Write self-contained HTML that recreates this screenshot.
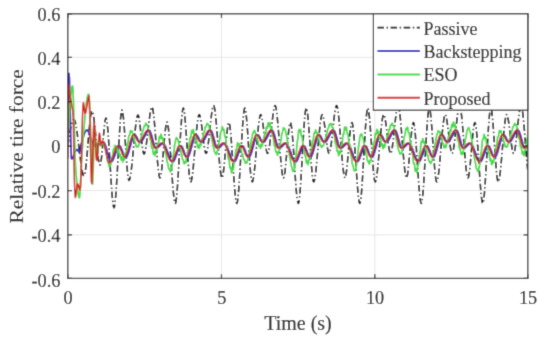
<!DOCTYPE html>
<html><head><meta charset="utf-8"><style>
html,body{margin:0;padding:0;background:#fff;}
svg{display:block;}
text{font-family:"Liberation Serif","Times New Roman",serif;fill:#101010;stroke:#101010;stroke-width:0.15px;}
</style></head><body>
<svg width="550" height="341" viewBox="0 0 550 341">
<defs><filter id="soft" x="0" y="0" width="550" height="341" filterUnits="userSpaceOnUse"><feConvolveMatrix order="3" kernelMatrix="0.0192 0.1001 0.0192 0.1001 0.5228 0.1001 0.0192 0.1001 0.0192" edgeMode="duplicate" preserveAlpha="true"/></filter></defs>
<g filter="url(#soft)">
<rect width="550" height="341" fill="#fff"/>
<defs><clipPath id="ax"><rect x="67.8" y="13.8" width="460.0" height="264.6"/></clipPath></defs>
<g stroke="#e6e6e6" stroke-width="1" fill="none"><line x1="221.48" y1="13.80" x2="221.48" y2="278.40"/><line x1="374.82" y1="13.80" x2="374.82" y2="278.40"/><line x1="67.80" y1="57.30" x2="527.80" y2="57.30"/><line x1="67.80" y1="101.70" x2="527.80" y2="101.70"/><line x1="67.80" y1="146.10" x2="527.80" y2="146.10"/><line x1="67.80" y1="190.50" x2="527.80" y2="190.50"/><line x1="67.80" y1="234.90" x2="527.80" y2="234.90"/></g>
<g clip-path="url(#ax)" fill="none" stroke-linejoin="round" stroke-linecap="round">
<path d="M67.9 145.9L68.4 142.0L68.9 138.3L69.4 135.0L69.9 131.9L70.4 129.2L70.9 126.7L71.4 124.6L71.9 122.9L72.4 121.5L72.9 120.4L73.4 119.8L73.9 119.5L74.4 119.8L74.9 120.8L75.4 122.5L75.9 124.8L76.4 127.7L76.9 131.0L77.4 134.7L77.9 138.6L78.4 142.7L78.9 146.9L79.4 151.1L79.9 155.3L80.4 159.3L80.9 163.1L81.4 166.5L81.9 169.6L82.4 172.1L82.9 174.1L83.4 175.4L83.9 176.0L84.4 175.5L84.9 173.7L85.4 170.7L85.9 166.7L86.4 162.0L86.9 156.6L87.4 150.8L87.9 144.7L88.4 138.6L88.9 132.7L89.4 127.1L89.9 122.1L90.4 117.8L90.9 114.3L91.4 112.0L91.9 111.0L92.4 111.4L92.9 112.9L93.4 115.4L93.9 118.7L94.4 122.7L94.9 127.1L95.4 132.0L95.9 137.0L96.4 142.0L96.9 147.0L97.4 151.6L97.9 155.8L98.4 159.4L98.9 162.2L99.4 164.1L99.9 165.0L100.4 164.4L100.9 162.1L101.4 158.5L101.9 153.8L102.4 148.5L102.9 142.7L103.4 136.8L103.9 131.2L104.4 126.2L104.9 122.2L105.4 119.3L105.9 118.0L106.4 118.7L106.9 121.2L107.4 125.3L107.9 130.8L108.4 137.4L108.9 144.8L109.4 152.8L109.9 161.2L110.4 169.6L110.9 177.7L111.4 185.4L111.9 192.4L112.4 198.4L112.9 203.1L113.4 206.3L113.9 207.7L114.4 207.0L114.9 204.3L115.4 199.8L115.9 193.8L116.4 186.6L116.9 178.5L117.4 169.8L117.9 160.7L118.4 151.5L118.9 142.6L119.4 134.3L119.9 126.7L120.4 120.2L120.9 115.0L121.4 111.6L121.9 110.0L122.4 110.7L122.9 113.2L123.4 117.3L123.9 122.8L124.4 129.2L124.9 136.3L125.4 143.7L125.9 151.3L126.4 158.5L126.9 165.3L127.4 171.1L127.9 175.8L128.4 179.0L128.9 180.5L129.4 180.1L129.9 178.7L130.4 176.2L130.9 173.0L131.4 169.0L131.9 164.5L132.4 159.5L132.9 154.3L133.4 148.8L133.9 143.4L134.4 138.1L134.9 133.0L135.4 128.2L135.9 124.0L136.4 120.5L136.9 117.7L137.4 115.8L137.9 115.0L138.4 115.5L138.9 117.4L139.4 120.4L139.9 124.3L140.4 128.7L140.9 133.5L141.4 138.4L141.9 143.0L142.4 147.2L142.9 150.5L143.4 152.9L143.9 154.0L144.4 153.7L144.9 152.3L145.4 150.2L145.9 147.3L146.4 143.8L146.9 139.9L147.4 135.7L147.9 131.4L148.4 127.0L148.9 122.7L149.4 118.7L149.9 115.0L150.4 111.9L150.9 109.4L151.4 107.8L151.9 107.0L152.4 107.5L152.9 109.5L153.4 112.8L153.9 117.1L154.4 122.3L154.9 128.2L155.4 134.6L155.9 141.2L156.4 147.8L156.9 154.3L157.4 160.4L157.9 165.9L158.4 170.6L158.9 174.3L159.4 176.9L159.9 178.0L160.4 177.5L160.9 175.5L161.4 172.2L161.9 167.9L162.4 162.8L162.9 157.1L163.4 151.2L163.9 145.2L164.4 139.4L164.9 134.1L165.4 129.4L165.9 125.7L166.4 123.2L166.9 122.0L167.4 122.5L167.9 124.7L168.4 128.2L168.9 132.9L169.4 138.5L169.9 144.9L170.4 151.8L170.9 159.1L171.4 166.4L171.9 173.7L172.4 180.6L172.9 187.0L173.4 192.6L173.9 197.3L174.4 200.8L174.9 203.0L175.4 203.5L175.9 202.0L176.4 198.6L176.9 193.6L177.4 187.2L177.9 179.8L178.4 171.6L178.9 162.9L179.4 154.0L179.9 145.1L180.4 136.5L180.9 128.6L181.4 121.6L181.9 115.8L182.4 111.4L182.9 108.7L183.4 108.0L183.9 109.4L184.4 112.4L184.9 116.9L185.4 122.5L185.9 129.0L186.4 136.1L186.9 143.5L187.4 151.0L187.9 158.2L188.4 165.0L188.9 171.0L189.4 176.0L189.9 179.6L190.4 181.6L190.9 181.9L191.4 180.7L191.9 178.3L192.4 175.0L192.9 170.8L193.4 165.9L193.9 160.5L194.4 154.8L194.9 148.8L195.4 142.9L195.9 137.1L196.4 131.6L196.9 126.7L197.4 122.3L197.9 118.8L198.4 116.2L198.9 114.7L199.4 114.6L199.9 115.6L200.4 117.6L200.9 120.4L201.4 123.9L201.9 127.7L202.4 131.9L202.9 136.1L203.4 140.3L203.9 144.1L204.4 147.6L204.9 150.4L205.4 152.4L205.9 153.4L206.4 153.3L206.9 152.0L207.4 149.7L207.9 146.5L208.4 142.7L208.9 138.4L209.4 133.8L209.9 129.0L210.4 124.3L210.9 119.7L211.4 115.5L211.9 111.8L212.4 108.8L212.9 106.7L213.4 105.6L213.9 105.8L214.4 107.3L214.9 110.2L215.4 114.1L215.9 118.8L216.4 124.3L216.9 130.3L217.4 136.6L217.9 143.0L218.4 149.5L218.9 155.7L219.4 161.5L219.9 166.7L220.4 171.1L220.9 174.6L221.4 176.9L221.9 178.0L222.4 177.5L222.9 175.4L223.4 172.1L223.9 167.7L224.4 162.5L224.9 156.8L225.4 150.9L225.9 144.9L226.4 139.1L226.9 133.8L227.4 129.2L227.9 125.7L228.4 123.3L228.9 122.5L229.4 123.4L229.9 126.1L230.4 130.2L230.9 135.4L231.4 141.7L231.9 148.7L232.4 156.1L232.9 163.8L233.4 171.4L233.9 178.8L234.4 185.6L234.9 191.7L235.4 196.8L235.9 200.6L236.4 202.9L236.9 203.5L237.4 202.0L237.9 198.6L238.4 193.6L238.9 187.2L239.4 179.8L239.9 171.6L240.4 162.9L240.9 154.0L241.4 145.1L241.9 136.5L242.4 128.6L242.9 121.6L243.4 115.8L243.9 111.4L244.4 108.7L244.9 108.0L245.4 109.4L245.9 112.4L246.4 116.9L246.9 122.5L247.4 129.0L247.9 136.1L248.4 143.5L248.9 151.0L249.4 158.2L249.9 165.0L250.4 171.0L250.9 176.0L251.4 179.6L251.9 181.6L252.4 181.9L252.9 180.7L253.4 178.3L253.9 175.0L254.4 170.8L254.9 165.9L255.4 160.5L255.9 154.8L256.4 148.8L256.9 142.9L257.4 137.1L257.9 131.6L258.4 126.7L258.9 122.3L259.4 118.8L259.9 116.2L260.4 114.7L260.9 114.6L261.4 115.6L261.9 117.6L262.4 120.4L262.9 123.9L263.4 127.7L263.9 131.9L264.4 136.1L264.9 140.3L265.4 144.1L265.9 147.6L266.4 150.4L266.9 152.4L267.4 153.4L267.9 153.3L268.4 152.0L268.9 149.7L269.4 146.5L269.9 142.7L270.4 138.4L270.9 133.8L271.4 129.0L271.9 124.3L272.4 119.7L272.9 115.5L273.4 111.8L273.9 108.8L274.4 106.7L274.9 105.6L275.4 105.8L275.9 107.3L276.4 110.2L276.9 114.1L277.4 118.8L277.9 124.3L278.4 130.3L278.9 136.6L279.4 143.0L279.9 149.5L280.4 155.7L280.9 161.5L281.4 166.7L281.9 171.1L282.4 174.6L282.9 176.9L283.4 178.0L283.9 177.5L284.4 175.4L284.9 172.1L285.4 167.7L285.9 162.5L286.4 156.8L286.9 150.9L287.4 144.9L287.9 139.1L288.4 133.8L288.9 129.2L289.4 125.7L289.9 123.3L290.4 122.5L290.9 123.4L291.4 126.1L291.9 130.2L292.4 135.4L292.9 141.7L293.4 148.7L293.9 156.1L294.4 163.8L294.9 171.4L295.4 178.8L295.9 185.6L296.4 191.7L296.9 196.8L297.4 200.6L297.9 202.9L298.4 203.5L298.9 202.0L299.4 198.6L299.9 193.6L300.4 187.2L300.9 179.8L301.4 171.6L301.9 162.9L302.4 154.0L302.9 145.1L303.4 136.5L303.9 128.6L304.4 121.6L304.9 115.8L305.4 111.4L305.9 108.7L306.4 108.0L306.9 109.4L307.4 112.4L307.9 116.9L308.4 122.5L308.9 129.0L309.4 136.1L309.9 143.5L310.4 151.0L310.9 158.2L311.4 165.0L311.9 171.0L312.4 176.0L312.9 179.6L313.4 181.6L313.9 181.9L314.4 180.7L314.9 178.3L315.4 175.0L315.9 170.8L316.4 165.9L316.9 160.5L317.4 154.8L317.9 148.8L318.4 142.9L318.9 137.1L319.4 131.6L319.9 126.7L320.4 122.3L320.9 118.8L321.4 116.2L321.9 114.7L322.4 114.6L322.9 115.6L323.4 117.6L323.9 120.4L324.4 123.9L324.9 127.7L325.4 131.9L325.9 136.1L326.4 140.3L326.9 144.1L327.4 147.6L327.9 150.4L328.4 152.4L328.9 153.4L329.4 153.3L329.9 152.0L330.4 149.7L330.9 146.5L331.4 142.7L331.9 138.4L332.4 133.8L332.9 129.0L333.4 124.3L333.9 119.7L334.4 115.5L334.9 111.8L335.4 108.8L335.9 106.7L336.4 105.6L336.9 105.8L337.4 107.3L337.9 110.2L338.4 114.1L338.9 118.8L339.4 124.3L339.9 130.3L340.4 136.6L340.9 143.0L341.4 149.5L341.9 155.7L342.4 161.5L342.9 166.7L343.4 171.1L343.9 174.6L344.4 176.9L344.9 178.0L345.4 177.5L345.9 175.4L346.4 172.1L346.9 167.7L347.4 162.5L347.9 156.8L348.4 150.9L348.9 144.9L349.4 139.1L349.9 133.8L350.4 129.2L350.9 125.7L351.4 123.3L351.9 122.5L352.4 123.4L352.9 126.1L353.4 130.2L353.9 135.4L354.4 141.7L354.9 148.7L355.4 156.1L355.9 163.8L356.4 171.4L356.9 178.8L357.4 185.6L357.9 191.7L358.4 196.8L358.9 200.6L359.4 202.9L359.9 203.5L360.4 202.0L360.9 198.6L361.4 193.6L361.9 187.2L362.4 179.8L362.9 171.6L363.4 162.9L363.9 154.0L364.4 145.1L364.9 136.5L365.4 128.6L365.9 121.6L366.4 115.8L366.9 111.4L367.4 108.7L367.9 108.0L368.4 109.4L368.9 112.4L369.4 116.9L369.9 122.5L370.4 129.0L370.9 136.1L371.4 143.5L371.9 151.0L372.4 158.2L372.9 165.0L373.4 171.0L373.9 176.0L374.4 179.6L374.9 181.6L375.4 181.9L375.9 180.7L376.4 178.3L376.9 175.0L377.4 170.8L377.9 165.9L378.4 160.5L378.9 154.8L379.4 148.8L379.9 142.9L380.4 137.1L380.9 131.6L381.4 126.7L381.9 122.3L382.4 118.8L382.9 116.2L383.4 114.7L383.9 114.6L384.4 115.6L384.9 117.6L385.4 120.4L385.9 123.9L386.4 127.7L386.9 131.9L387.4 136.1L387.9 140.3L388.4 144.1L388.9 147.6L389.4 150.4L389.9 152.4L390.4 153.4L390.9 153.3L391.4 152.0L391.9 149.7L392.4 146.5L392.9 142.7L393.4 138.4L393.9 133.8L394.4 129.0L394.9 124.3L395.4 119.7L395.9 115.5L396.4 111.8L396.9 108.8L397.4 106.7L397.9 105.6L398.4 105.8L398.9 107.3L399.4 110.2L399.9 114.1L400.4 118.8L400.9 124.3L401.4 130.3L401.9 136.6L402.4 143.0L402.9 149.5L403.4 155.7L403.9 161.5L404.4 166.7L404.9 171.1L405.4 174.6L405.9 176.9L406.4 178.0L406.9 177.5L407.4 175.4L407.9 172.1L408.4 167.7L408.9 162.5L409.4 156.8L409.9 150.9L410.4 144.9L410.9 139.1L411.4 133.8L411.9 129.2L412.4 125.7L412.9 123.3L413.4 122.5L413.9 123.4L414.4 126.1L414.9 130.2L415.4 135.4L415.9 141.7L416.4 148.7L416.9 156.1L417.4 163.8L417.9 171.4L418.4 178.8L418.9 185.6L419.4 191.7L419.9 196.8L420.4 200.6L420.9 202.9L421.4 203.5L421.9 202.0L422.4 198.6L422.9 193.6L423.4 187.2L423.9 179.8L424.4 171.6L424.9 162.9L425.4 154.0L425.9 145.1L426.4 136.5L426.9 128.6L427.4 121.6L427.9 115.8L428.4 111.4L428.9 108.7L429.4 108.0L429.9 109.4L430.4 112.4L430.9 116.9L431.4 122.5L431.9 129.0L432.4 136.1L432.9 143.5L433.4 151.0L433.9 158.2L434.4 165.0L434.9 171.0L435.4 176.0L435.9 179.6L436.4 181.6L436.9 181.9L437.4 180.7L437.9 178.3L438.4 175.0L438.9 170.8L439.4 165.9L439.9 160.5L440.4 154.8L440.9 148.8L441.4 142.9L441.9 137.1L442.4 131.6L442.9 126.7L443.4 122.3L443.9 118.8L444.4 116.2L444.9 114.7L445.4 114.6L445.9 115.6L446.4 117.6L446.9 120.4L447.4 123.9L447.9 127.7L448.4 131.9L448.9 136.1L449.4 140.3L449.9 144.1L450.4 147.6L450.9 150.4L451.4 152.4L451.9 153.4L452.4 153.3L452.9 152.0L453.4 149.7L453.9 146.5L454.4 142.7L454.9 138.4L455.4 133.8L455.9 129.0L456.4 124.3L456.9 119.7L457.4 115.5L457.9 111.8L458.4 108.8L458.9 106.7L459.4 105.6L459.9 105.8L460.4 107.3L460.9 110.2L461.4 114.1L461.9 118.8L462.4 124.3L462.9 130.3L463.4 136.6L463.9 143.0L464.4 149.5L464.9 155.7L465.4 161.5L465.9 166.7L466.4 171.1L466.9 174.6L467.4 176.9L467.9 178.0L468.4 177.5L468.9 175.4L469.4 172.1L469.9 167.7L470.4 162.5L470.9 156.8L471.4 150.9L471.9 144.9L472.4 139.1L472.9 133.8L473.4 129.2L473.9 125.7L474.4 123.3L474.9 122.5L475.4 123.4L475.9 126.1L476.4 130.2L476.9 135.4L477.4 141.7L477.9 148.7L478.4 156.1L478.9 163.8L479.4 171.4L479.9 178.8L480.4 185.6L480.9 191.7L481.4 196.8L481.9 200.6L482.4 202.9L482.9 203.5L483.4 202.0L483.9 198.6L484.4 193.6L484.9 187.2L485.4 179.8L485.9 171.6L486.4 162.9L486.9 154.0L487.4 145.1L487.9 136.5L488.4 128.6L488.9 121.6L489.4 115.8L489.9 111.4L490.4 108.7L490.9 108.0L491.4 109.4L491.9 112.4L492.4 116.9L492.9 122.5L493.4 129.0L493.9 136.1L494.4 143.5L494.9 151.0L495.4 158.2L495.9 165.0L496.4 171.0L496.9 176.0L497.4 179.6L497.9 181.6L498.4 181.9L498.9 180.7L499.4 178.3L499.9 175.0L500.4 170.8L500.9 165.9L501.4 160.5L501.9 154.8L502.4 148.8L502.9 142.9L503.4 137.1L503.9 131.6L504.4 126.7L504.9 122.3L505.4 118.8L505.9 116.2L506.4 114.7L506.9 114.6L507.4 115.6L507.9 117.6L508.4 120.4L508.9 123.9L509.4 127.7L509.9 131.9L510.4 136.1L510.9 140.3L511.4 144.1L511.9 147.6L512.4 150.4L512.9 152.4L513.4 153.4L513.9 153.3L514.4 152.0L514.9 149.7L515.4 146.5L515.9 142.7L516.4 138.4L516.9 133.8L517.4 129.0L517.9 124.3L518.4 119.7L518.9 115.5L519.4 111.8L519.9 108.8L520.4 106.7L520.9 105.6L521.4 105.8L521.9 107.3L522.4 110.2L522.9 114.1L523.4 118.8L523.9 124.3L524.4 130.3L524.9 136.6L525.4 143.0L525.9 149.5L526.4 155.7L526.9 161.5L527.4 166.7L527.8 170.3" stroke="#000" stroke-width="1.6" stroke-dasharray="6.5 2.6 1.4 2.6" stroke-linecap="butt"/>
<path d="M67.9 145.9L68.4 99.7L68.9 73.4L69.4 78.4L69.9 98.1L70.4 123.5L70.9 146.4L71.4 158.6L71.9 158.9L72.4 158.3L72.9 157.5L73.4 156.4L73.9 155.2L74.4 153.9L74.9 152.6L75.4 151.4L75.9 150.5L76.4 149.8L76.9 149.5L77.4 149.7L77.9 150.4L78.4 151.3L78.9 152.1L79.4 152.5L79.9 151.7L80.4 149.2L80.9 146.0L81.4 143.2L81.9 141.4L82.4 139.8L82.9 138.1L83.4 136.6L83.9 135.1L84.4 133.7L84.9 132.5L85.4 131.5L85.9 130.7L86.4 130.2L86.9 130.0L87.4 130.2L87.9 130.8L88.4 131.8L88.9 133.1L89.4 134.6L89.9 136.1L90.4 137.5L90.9 138.8L91.4 139.9L91.9 141.2L92.4 142.5L92.9 143.7L93.4 144.7L93.9 145.3L94.4 145.6L94.9 145.9L95.4 146.1L95.9 146.3L96.4 146.4L96.9 146.5L97.4 146.4L97.9 146.0L98.4 145.4L98.9 144.8L99.4 144.1L99.9 143.5L100.4 143.1L100.9 142.8L101.4 142.6L101.9 142.3L102.4 142.2L102.9 142.0L103.4 142.0L103.9 142.2L104.4 142.9L104.9 143.9L105.4 145.3L105.9 146.8L106.4 148.6L106.9 150.4L107.4 152.3L107.9 154.2L108.4 156.0L108.9 157.7L109.4 159.2L109.9 160.4L110.4 161.3L110.9 161.8L111.4 161.9L111.9 161.6L112.4 161.0L112.9 160.1L113.4 159.1L113.9 157.8L114.4 156.5L114.9 155.1L115.4 153.6L115.9 152.2L116.4 150.8L116.9 149.5L117.4 148.3L117.9 147.3L118.4 146.6L118.9 146.1L119.4 145.9L119.9 146.1L120.4 146.7L120.9 147.5L121.4 148.6L121.9 149.8L122.4 151.1L122.9 152.5L123.4 153.8L123.9 155.0L124.4 156.0L124.9 156.8L125.4 157.3L125.9 157.4L126.4 157.1L126.9 156.5L127.4 155.5L127.9 154.3L128.4 152.9L128.9 151.2L129.4 149.5L129.9 147.6L130.4 145.8L130.9 143.9L131.4 142.1L131.9 140.4L132.4 138.8L132.9 137.5L133.4 136.4L133.9 135.5L134.4 135.0L134.9 134.9L135.4 135.2L135.9 135.7L136.4 136.5L136.9 137.5L137.4 138.5L137.9 139.6L138.4 140.6L138.9 141.4L139.4 142.0L139.9 142.4L140.4 142.4L140.9 142.1L141.4 141.7L141.9 141.2L142.4 140.4L142.9 139.6L143.4 138.7L143.9 137.8L144.4 136.8L144.9 135.8L145.4 134.8L145.9 133.9L146.4 133.0L146.9 132.2L147.4 131.5L147.9 131.0L148.4 130.6L148.9 130.4L149.4 130.5L149.9 131.0L150.4 132.0L150.9 133.3L151.4 134.8L151.9 136.6L152.4 138.5L152.9 140.3L153.4 142.2L153.9 144.0L154.4 145.5L154.9 146.8L155.4 147.8L155.9 148.3L156.4 148.4L156.9 148.2L157.4 148.0L157.9 147.6L158.4 147.1L158.9 146.6L159.4 146.1L159.9 145.5L160.4 145.0L160.9 144.5L161.4 144.0L161.9 143.7L162.4 143.5L162.9 143.4L163.4 143.5L163.9 143.9L164.4 144.6L164.9 145.4L165.4 146.4L165.9 147.5L166.4 148.8L166.9 150.1L167.4 151.5L167.9 152.9L168.4 154.3L168.9 155.7L169.4 157.0L169.9 158.2L170.4 159.3L170.9 160.3L171.4 161.0L171.9 161.6L172.4 161.8L172.9 161.9L173.4 161.6L173.9 161.0L174.4 160.1L174.9 159.1L175.4 157.8L175.9 156.5L176.4 155.1L176.9 153.6L177.4 152.2L177.9 150.8L178.4 149.5L178.9 148.3L179.4 147.3L179.9 146.6L180.4 146.1L180.9 145.9L181.4 146.1L181.9 146.7L182.4 147.5L182.9 148.6L183.4 149.8L183.9 151.1L184.4 152.5L184.9 153.8L185.4 155.0L185.9 156.0L186.4 156.8L186.9 157.3L187.4 157.4L187.9 157.1L188.4 156.5L188.9 155.5L189.4 154.3L189.9 152.9L190.4 151.2L190.9 149.5L191.4 147.6L191.9 145.8L192.4 143.9L192.9 142.1L193.4 140.4L193.9 138.8L194.4 137.5L194.9 136.4L195.4 135.5L195.9 135.0L196.4 134.9L196.9 135.2L197.4 135.7L197.9 136.5L198.4 137.5L198.9 138.5L199.4 139.6L199.9 140.6L200.4 141.4L200.9 142.0L201.4 142.4L201.9 142.4L202.4 142.1L202.9 141.7L203.4 141.2L203.9 140.4L204.4 139.6L204.9 138.7L205.4 137.8L205.9 136.8L206.4 135.8L206.9 134.8L207.4 133.9L207.9 133.0L208.4 132.2L208.9 131.5L209.4 131.0L209.9 130.6L210.4 130.4L210.9 130.5L211.4 131.0L211.9 132.0L212.4 133.3L212.9 134.8L213.4 136.6L213.9 138.5L214.4 140.3L214.9 142.2L215.4 144.0L215.9 145.5L216.4 146.8L216.9 147.8L217.4 148.3L217.9 148.4L218.4 148.2L218.9 148.0L219.4 147.6L219.9 147.1L220.4 146.6L220.9 146.1L221.4 145.5L221.9 145.0L222.4 144.5L222.9 144.0L223.4 143.7L223.9 143.5L224.4 143.4L224.9 143.5L225.4 143.9L225.9 144.6L226.4 145.4L226.9 146.4L227.4 147.5L227.9 148.8L228.4 150.1L228.9 151.5L229.4 152.9L229.9 154.3L230.4 155.7L230.9 157.0L231.4 158.2L231.9 159.3L232.4 160.3L232.9 161.0L233.4 161.6L233.9 161.8L234.4 161.9L234.9 161.6L235.4 161.0L235.9 160.1L236.4 159.1L236.9 157.8L237.4 156.5L237.9 155.1L238.4 153.6L238.9 152.2L239.4 150.8L239.9 149.5L240.4 148.3L240.9 147.3L241.4 146.6L241.9 146.1L242.4 145.9L242.9 146.1L243.4 146.7L243.9 147.5L244.4 148.6L244.9 149.8L245.4 151.1L245.9 152.5L246.4 153.8L246.9 155.0L247.4 156.0L247.9 156.8L248.4 157.3L248.9 157.4L249.4 157.1L249.9 156.5L250.4 155.5L250.9 154.3L251.4 152.9L251.9 151.2L252.4 149.5L252.9 147.6L253.4 145.8L253.9 143.9L254.4 142.1L254.9 140.4L255.4 138.8L255.9 137.5L256.4 136.4L256.9 135.5L257.4 135.0L257.9 134.9L258.4 135.2L258.9 135.7L259.4 136.5L259.9 137.5L260.4 138.5L260.9 139.6L261.4 140.6L261.9 141.4L262.4 142.0L262.9 142.4L263.4 142.4L263.9 142.1L264.4 141.7L264.9 141.2L265.4 140.4L265.9 139.6L266.4 138.7L266.9 137.8L267.4 136.8L267.9 135.8L268.4 134.8L268.9 133.9L269.4 133.0L269.9 132.2L270.4 131.5L270.9 131.0L271.4 130.6L271.9 130.4L272.4 130.5L272.9 131.0L273.4 132.0L273.9 133.3L274.4 134.8L274.9 136.6L275.4 138.5L275.9 140.3L276.4 142.2L276.9 144.0L277.4 145.5L277.9 146.8L278.4 147.8L278.9 148.3L279.4 148.4L279.9 148.2L280.4 148.0L280.9 147.6L281.4 147.1L281.9 146.6L282.4 146.1L282.9 145.5L283.4 145.0L283.9 144.5L284.4 144.0L284.9 143.7L285.4 143.5L285.9 143.4L286.4 143.5L286.9 143.9L287.4 144.6L287.9 145.4L288.4 146.4L288.9 147.5L289.4 148.8L289.9 150.1L290.4 151.5L290.9 152.9L291.4 154.3L291.9 155.7L292.4 157.0L292.9 158.2L293.4 159.3L293.9 160.3L294.4 161.0L294.9 161.6L295.4 161.8L295.9 161.9L296.4 161.6L296.9 161.0L297.4 160.1L297.9 159.1L298.4 157.8L298.9 156.5L299.4 155.1L299.9 153.6L300.4 152.2L300.9 150.8L301.4 149.5L301.9 148.3L302.4 147.3L302.9 146.6L303.4 146.1L303.9 145.9L304.4 146.1L304.9 146.7L305.4 147.5L305.9 148.6L306.4 149.8L306.9 151.1L307.4 152.5L307.9 153.8L308.4 155.0L308.9 156.0L309.4 156.8L309.9 157.3L310.4 157.4L310.9 157.1L311.4 156.5L311.9 155.5L312.4 154.3L312.9 152.9L313.4 151.2L313.9 149.5L314.4 147.6L314.9 145.8L315.4 143.9L315.9 142.1L316.4 140.4L316.9 138.8L317.4 137.5L317.9 136.4L318.4 135.5L318.9 135.0L319.4 134.9L319.9 135.2L320.4 135.7L320.9 136.5L321.4 137.5L321.9 138.5L322.4 139.6L322.9 140.6L323.4 141.4L323.9 142.0L324.4 142.4L324.9 142.4L325.4 142.1L325.9 141.7L326.4 141.2L326.9 140.4L327.4 139.6L327.9 138.7L328.4 137.8L328.9 136.8L329.4 135.8L329.9 134.8L330.4 133.9L330.9 133.0L331.4 132.2L331.9 131.5L332.4 131.0L332.9 130.6L333.4 130.4L333.9 130.5L334.4 131.0L334.9 132.0L335.4 133.3L335.9 134.8L336.4 136.6L336.9 138.5L337.4 140.3L337.9 142.2L338.4 144.0L338.9 145.5L339.4 146.8L339.9 147.8L340.4 148.3L340.9 148.4L341.4 148.2L341.9 148.0L342.4 147.6L342.9 147.1L343.4 146.6L343.9 146.1L344.4 145.5L344.9 145.0L345.4 144.5L345.9 144.0L346.4 143.7L346.9 143.5L347.4 143.4L347.9 143.5L348.4 143.9L348.9 144.6L349.4 145.4L349.9 146.4L350.4 147.5L350.9 148.8L351.4 150.1L351.9 151.5L352.4 152.9L352.9 154.3L353.4 155.7L353.9 157.0L354.4 158.2L354.9 159.3L355.4 160.3L355.9 161.0L356.4 161.6L356.9 161.8L357.4 161.9L357.9 161.6L358.4 161.0L358.9 160.1L359.4 159.1L359.9 157.8L360.4 156.5L360.9 155.1L361.4 153.6L361.9 152.2L362.4 150.8L362.9 149.5L363.4 148.3L363.9 147.3L364.4 146.6L364.9 146.1L365.4 145.9L365.9 146.1L366.4 146.7L366.9 147.5L367.4 148.6L367.9 149.8L368.4 151.1L368.9 152.5L369.4 153.8L369.9 155.0L370.4 156.0L370.9 156.8L371.4 157.3L371.9 157.4L372.4 157.1L372.9 156.5L373.4 155.5L373.9 154.3L374.4 152.9L374.9 151.2L375.4 149.5L375.9 147.6L376.4 145.8L376.9 143.9L377.4 142.1L377.9 140.4L378.4 138.8L378.9 137.5L379.4 136.4L379.9 135.5L380.4 135.0L380.9 134.9L381.4 135.2L381.9 135.7L382.4 136.5L382.9 137.5L383.4 138.5L383.9 139.6L384.4 140.6L384.9 141.4L385.4 142.0L385.9 142.4L386.4 142.4L386.9 142.1L387.4 141.7L387.9 141.2L388.4 140.4L388.9 139.6L389.4 138.7L389.9 137.8L390.4 136.8L390.9 135.8L391.4 134.8L391.9 133.9L392.4 133.0L392.9 132.2L393.4 131.5L393.9 131.0L394.4 130.6L394.9 130.4L395.4 130.5L395.9 131.0L396.4 132.0L396.9 133.3L397.4 134.8L397.9 136.6L398.4 138.5L398.9 140.3L399.4 142.2L399.9 144.0L400.4 145.5L400.9 146.8L401.4 147.8L401.9 148.3L402.4 148.4L402.9 148.2L403.4 148.0L403.9 147.6L404.4 147.1L404.9 146.6L405.4 146.1L405.9 145.5L406.4 145.0L406.9 144.5L407.4 144.0L407.9 143.7L408.4 143.5L408.9 143.4L409.4 143.5L409.9 143.9L410.4 144.6L410.9 145.4L411.4 146.4L411.9 147.5L412.4 148.8L412.9 150.1L413.4 151.5L413.9 152.9L414.4 154.3L414.9 155.7L415.4 157.0L415.9 158.2L416.4 159.3L416.9 160.3L417.4 161.0L417.9 161.6L418.4 161.8L418.9 161.9L419.4 161.6L419.9 161.0L420.4 160.1L420.9 159.1L421.4 157.8L421.9 156.5L422.4 155.1L422.9 153.6L423.4 152.2L423.9 150.8L424.4 149.5L424.9 148.3L425.4 147.3L425.9 146.6L426.4 146.1L426.9 145.9L427.4 146.1L427.9 146.7L428.4 147.5L428.9 148.6L429.4 149.8L429.9 151.1L430.4 152.5L430.9 153.8L431.4 155.0L431.9 156.0L432.4 156.8L432.9 157.3L433.4 157.4L433.9 157.1L434.4 156.5L434.9 155.5L435.4 154.3L435.9 152.9L436.4 151.2L436.9 149.5L437.4 147.6L437.9 145.8L438.4 143.9L438.9 142.1L439.4 140.4L439.9 138.8L440.4 137.5L440.9 136.4L441.4 135.5L441.9 135.0L442.4 134.9L442.9 135.2L443.4 135.7L443.9 136.5L444.4 137.5L444.9 138.5L445.4 139.6L445.9 140.6L446.4 141.4L446.9 142.0L447.4 142.4L447.9 142.4L448.4 142.1L448.9 141.7L449.4 141.2L449.9 140.4L450.4 139.6L450.9 138.7L451.4 137.8L451.9 136.8L452.4 135.8L452.9 134.8L453.4 133.9L453.9 133.0L454.4 132.2L454.9 131.5L455.4 131.0L455.9 130.6L456.4 130.4L456.9 130.5L457.4 131.0L457.9 132.0L458.4 133.3L458.9 134.8L459.4 136.6L459.9 138.5L460.4 140.3L460.9 142.2L461.4 144.0L461.9 145.5L462.4 146.8L462.9 147.8L463.4 148.3L463.9 148.4L464.4 148.2L464.9 148.0L465.4 147.6L465.9 147.1L466.4 146.6L466.9 146.1L467.4 145.5L467.9 145.0L468.4 144.5L468.9 144.0L469.4 143.7L469.9 143.5L470.4 143.4L470.9 143.5L471.4 143.9L471.9 144.6L472.4 145.4L472.9 146.4L473.4 147.5L473.9 148.8L474.4 150.1L474.9 151.5L475.4 152.9L475.9 154.3L476.4 155.7L476.9 157.0L477.4 158.2L477.9 159.3L478.4 160.3L478.9 161.0L479.4 161.6L479.9 161.8L480.4 161.9L480.9 161.6L481.4 161.0L481.9 160.1L482.4 159.1L482.9 157.8L483.4 156.5L483.9 155.1L484.4 153.6L484.9 152.2L485.4 150.8L485.9 149.5L486.4 148.3L486.9 147.3L487.4 146.6L487.9 146.1L488.4 145.9L488.9 146.1L489.4 146.7L489.9 147.5L490.4 148.6L490.9 149.8L491.4 151.1L491.9 152.5L492.4 153.8L492.9 155.0L493.4 156.0L493.9 156.8L494.4 157.3L494.9 157.4L495.4 157.1L495.9 156.5L496.4 155.5L496.9 154.3L497.4 152.9L497.9 151.2L498.4 149.5L498.9 147.6L499.4 145.8L499.9 143.9L500.4 142.1L500.9 140.4L501.4 138.8L501.9 137.5L502.4 136.4L502.9 135.5L503.4 135.0L503.9 134.9L504.4 135.2L504.9 135.7L505.4 136.5L505.9 137.5L506.4 138.5L506.9 139.6L507.4 140.6L507.9 141.4L508.4 142.0L508.9 142.4L509.4 142.4L509.9 142.1L510.4 141.7L510.9 141.2L511.4 140.4L511.9 139.6L512.4 138.7L512.9 137.8L513.4 136.8L513.9 135.8L514.4 134.8L514.9 133.9L515.4 133.0L515.9 132.2L516.4 131.5L516.9 131.0L517.4 130.6L517.9 130.4L518.4 130.5L518.9 131.0L519.4 132.0L519.9 133.3L520.4 134.8L520.9 136.6L521.4 138.5L521.9 140.3L522.4 142.2L522.9 144.0L523.4 145.5L523.9 146.8L524.4 147.8L524.9 148.3L525.4 148.4L525.9 148.2L526.4 148.0L526.9 147.6L527.4 147.1L527.8 146.7" stroke="#2c26c8" stroke-width="1.8"/>
<path d="M67.9 145.9L68.1 140.4L68.3 135.0L68.5 129.8L68.7 124.9L68.9 120.3L69.1 116.3L69.3 112.8L69.5 110.0L69.7 107.6L69.9 105.2L70.1 102.9L70.3 100.7L70.5 98.5L70.7 96.5L70.9 94.6L71.1 92.9L71.3 91.3L71.5 89.9L71.7 88.6L71.9 87.6L72.1 86.9L72.3 86.3L72.5 86.0L72.7 86.3L72.9 88.7L73.1 92.8L73.3 98.3L73.5 104.5L73.7 111.0L73.9 117.2L74.1 122.8L74.3 129.1L74.5 136.0L74.7 143.1L74.9 149.9L75.1 156.1L75.3 161.3L75.5 165.0L75.7 167.8L75.9 170.6L76.1 173.2L76.3 175.8L76.5 178.3L76.7 180.6L76.9 182.9L77.1 185.0L77.3 187.0L77.5 188.8L77.7 190.5L77.9 192.1L78.1 193.4L78.3 194.6L78.5 195.7L78.7 196.5L78.9 197.1L79.1 197.6L79.3 197.8L79.5 197.7L79.7 196.6L79.9 194.7L80.1 191.9L80.3 188.5L80.5 184.6L80.7 180.4L80.9 175.8L81.1 171.2L81.3 166.6L81.5 162.2L81.7 158.1L81.9 154.4L82.1 151.3L82.3 148.8L82.5 146.4L82.7 143.9L82.9 141.5L83.1 139.0L83.3 136.5L83.5 134.1L83.7 131.6L83.9 129.2L84.1 126.8L84.3 124.5L84.5 122.2L84.7 119.9L84.9 117.7L85.1 115.6L85.3 113.5L85.5 111.5L85.7 109.5L85.9 107.7L86.1 105.9L86.3 104.3L86.5 102.7L86.7 101.3L86.9 99.9L87.1 98.7L87.3 97.6L87.5 96.7L87.7 95.9L87.9 95.2L88.1 94.7L88.3 94.4L88.5 94.2L88.7 94.4L88.9 95.5L89.1 97.7L89.3 100.8L89.5 104.5L89.7 108.8L89.9 113.4L90.1 118.2L90.3 123.1L90.5 127.8L90.7 132.4L90.9 138.3L91.1 145.2L91.3 152.7L91.5 160.4L91.7 167.6L91.9 174.1L92.1 179.3L92.3 182.7L92.5 184.0L92.7 182.6L92.9 178.7L93.1 172.9L93.3 165.8L93.5 158.0L93.7 150.0L93.9 142.5L94.1 136.0L94.3 131.1L94.5 128.4L94.7 128.2L94.9 129.3L95.1 131.4L95.3 134.2L95.5 137.5L95.7 141.1L95.9 144.9L96.1 148.5L96.3 151.8L96.5 154.6L96.7 156.7L96.9 157.8L97.1 157.9L97.3 157.2L97.5 155.9L97.7 154.1L97.9 151.9L98.1 149.5L98.3 147.0L98.5 144.5L98.7 142.1L98.9 139.9L99.1 138.1L99.3 136.8L99.5 136.1L99.7 136.1L99.9 136.9L100.1 138.3L100.3 140.1L100.5 141.9L100.7 143.7L100.9 145.1L101.1 145.9L101.3 146.0L101.5 145.7L101.7 145.2L101.9 144.7L102.1 144.0L102.3 143.3L102.5 142.8L102.7 142.3L102.9 142.0L103.1 142.0L103.3 142.1L103.5 142.4L103.7 142.8L103.9 143.2L104.1 144.2L104.3 144.8L104.5 145.2L104.7 145.7L104.9 146.3L105.1 147.3L105.3 148.5L105.5 149.9L105.7 151.3L105.9 152.4L106.1 153.2L106.3 153.9L106.5 154.6L106.7 155.5L106.9 156.8L107.1 158.3L107.3 159.8L107.5 161.0L107.7 161.8L107.9 162.2L108.1 162.4L108.3 162.8L108.5 163.4L108.7 164.5L108.9 165.6L109.1 166.5L109.3 166.8L109.5 166.5L109.7 165.8L109.9 165.0L110.1 164.5L110.3 164.4L110.5 164.6L110.7 164.7L110.9 164.4L111.1 163.4L111.3 161.8L111.5 159.9L111.7 158.4L111.9 157.4L112.1 157.1L112.3 157.0L112.5 156.7L112.7 155.8L112.9 154.2L113.1 152.1L113.3 150.3L113.5 149.1L113.7 148.7L113.9 149.0L114.1 149.5L114.3 149.5L114.5 148.8L114.7 147.5L114.9 146.1L115.1 145.4L115.3 145.5L115.5 146.5L115.7 147.9L115.9 149.0L116.1 149.4L116.3 148.8L116.5 147.8L116.7 147.0L116.9 146.9L117.1 147.8L117.3 149.5L117.5 151.2L117.7 152.2L117.9 152.3L118.1 151.5L118.3 150.6L118.5 150.2L118.7 150.8L118.9 152.3L119.1 154.2L119.3 155.8L119.5 156.4L119.7 156.0L119.9 155.0L120.1 154.2L120.3 154.3L120.5 155.4L120.7 157.1L120.9 158.8L121.1 159.9L121.3 159.8L121.5 158.9L121.7 157.8L121.9 157.2L122.1 157.6L122.3 158.9L122.5 160.4L122.7 161.6L122.9 161.8L123.1 161.0L123.3 159.6L123.5 158.4L123.7 157.8L123.9 158.1L124.1 159.0L124.3 159.7L124.5 159.7L124.7 158.7L124.9 157.0L125.1 155.0L125.3 153.4L125.5 152.7L125.7 152.7L125.9 152.9L126.1 152.8L126.3 151.9L126.5 150.1L126.7 147.9L126.9 145.9L127.1 144.5L127.3 144.0L127.5 143.9L127.7 143.8L127.9 143.1L128.1 141.8L128.3 139.9L128.5 138.0L128.7 136.5L128.9 135.7L129.1 135.5L129.3 135.6L129.5 135.4L129.7 134.8L129.9 133.7L130.1 132.3L130.3 131.1L130.5 130.6L130.7 130.6L130.9 131.1L131.1 131.7L131.3 132.0L131.5 131.9L131.7 131.5L131.9 131.1L132.1 131.1L132.3 131.7L132.5 132.6L132.7 133.8L132.9 134.8L133.1 135.5L133.3 135.9L133.5 136.1L133.7 136.5L133.9 137.2L134.1 138.2L134.3 139.4L134.5 140.6L134.7 141.6L134.9 142.2L135.1 142.6L135.3 142.9L135.5 143.4L135.7 144.0L135.9 144.9L136.1 145.8L136.3 146.4L136.5 146.8L136.7 146.9L136.9 146.8L137.1 146.6L137.3 146.6L137.5 146.6L137.7 146.8L137.9 146.9L138.1 146.7L138.3 146.4L138.5 145.7L138.7 145.0L138.9 144.4L139.1 143.9L139.3 143.6L139.5 143.3L139.7 142.9L139.9 142.3L140.1 141.5L140.3 140.5L140.5 139.5L140.7 138.7L140.9 138.1L141.1 137.6L141.3 137.2L141.5 136.6L141.7 135.7L141.9 134.6L142.1 133.5L142.3 132.5L142.5 131.7L142.7 131.3L142.9 131.0L143.1 130.6L143.3 130.0L143.5 129.1L143.7 128.0L143.9 127.0L144.1 126.3L144.3 126.0L144.5 126.0L144.7 126.1L144.9 125.9L145.1 125.5L145.3 124.7L145.5 123.8L145.7 123.3L145.9 123.2L146.1 123.7L146.3 124.4L146.5 125.1L146.7 125.4L146.9 125.3L147.1 124.9L147.3 124.7L147.5 125.0L147.7 126.0L147.9 127.5L148.1 129.0L148.3 130.2L148.5 130.8L148.7 130.9L148.9 130.9L149.1 131.3L149.3 132.3L149.5 134.1L149.7 136.1L149.9 137.9L150.1 139.1L150.3 139.5L150.5 139.5L150.7 139.6L150.9 140.3L151.1 141.9L151.3 143.9L151.5 146.0L151.7 147.6L151.9 148.2L152.1 148.1L152.3 147.7L152.5 147.7L152.7 148.6L152.9 150.2L153.1 152.2L153.3 153.7L153.5 154.4L153.7 154.0L153.9 153.1L154.1 152.2L154.3 152.0L154.5 152.7L154.7 154.0L154.9 155.2L155.1 155.6L155.3 154.9L155.5 153.4L155.7 151.5L155.9 150.1L156.1 149.6L156.3 150.1L156.5 150.8L156.7 151.1L156.9 150.5L157.1 148.8L157.3 146.5L157.5 144.5L157.7 143.2L157.9 143.0L158.1 143.5L158.3 144.0L158.5 143.8L158.7 142.6L158.9 140.7L159.1 138.5L159.3 137.0L159.5 136.5L159.7 137.0L159.9 137.9L160.1 138.5L160.3 138.3L160.5 137.2L160.7 135.7L160.9 134.5L161.1 134.2L161.3 135.0L161.5 136.4L161.7 137.9L161.9 138.8L162.1 138.9L162.3 138.3L162.5 137.7L162.7 137.6L162.9 138.4L163.1 140.1L163.3 142.1L163.5 143.7L163.7 144.7L163.9 144.9L164.1 144.8L164.3 144.9L164.5 145.6L164.7 147.1L164.9 149.2L165.1 151.2L165.3 152.7L165.5 153.5L165.7 153.7L165.9 153.9L166.1 154.5L166.3 155.7L166.5 157.4L166.7 159.3L166.9 161.0L167.1 162.0L167.3 162.5L167.5 162.7L167.7 163.0L167.9 163.7L168.1 164.9L168.3 166.3L168.5 167.7L168.7 168.7L168.9 169.1L169.1 169.1L169.3 169.1L169.5 169.2L169.7 169.6L169.9 170.3L170.1 171.1L170.3 171.6L170.5 171.7L170.7 171.2L170.9 170.5L171.1 169.6L171.3 168.8L171.5 168.2L171.7 167.6L171.9 166.8L172.1 165.8L172.3 164.3L172.5 162.5L172.7 160.7L172.9 158.9L173.1 157.4L173.3 156.0L173.5 154.7L173.7 153.3L173.9 151.6L174.1 149.8L174.3 148.0L174.5 146.2L174.7 144.7L174.9 143.5L175.1 142.6L175.3 141.7L175.5 140.8L175.7 139.9L175.9 139.0L176.1 138.2L176.3 137.7L176.5 137.6L176.7 137.9L176.9 138.3L177.1 138.8L177.3 139.1L177.5 139.3L177.7 139.4L177.9 139.6L178.1 140.0L178.3 140.8L178.5 141.7L178.7 142.8L178.9 143.7L179.1 144.4L179.3 144.9L179.5 145.3L179.7 145.9L179.9 146.8L180.1 148.0L180.3 149.4L180.5 150.6L180.7 151.6L180.9 152.2L181.1 152.6L181.3 153.1L181.5 153.8L181.7 154.9L181.9 156.2L182.1 157.6L182.3 158.7L182.5 159.3L182.7 159.4L182.9 159.4L183.1 159.6L183.3 160.2L183.5 161.2L183.7 162.3L183.9 163.3L184.1 163.7L184.3 163.4L184.5 162.7L184.7 162.1L184.9 161.8L185.1 162.0L185.3 162.5L185.5 163.0L185.7 162.9L185.9 162.1L186.1 160.7L186.3 158.9L186.5 157.5L186.7 156.7L186.9 156.5L187.1 156.6L187.3 156.4L187.5 155.5L187.7 153.7L187.9 151.4L188.1 149.3L188.3 147.8L188.5 147.1L188.7 147.0L188.9 146.9L189.1 146.3L189.3 144.8L189.5 142.6L189.7 140.2L189.9 138.3L190.1 137.3L190.3 137.3L190.5 137.6L190.7 137.7L190.9 136.9L191.1 135.3L191.3 133.2L191.5 131.4L191.7 130.5L191.9 130.6L192.1 131.5L192.3 132.6L192.5 133.0L192.7 132.6L192.9 131.4L193.1 130.2L193.3 129.5L193.5 130.0L193.7 131.5L193.9 133.4L194.1 135.0L194.3 135.7L194.5 135.5L194.7 134.8L194.9 134.3L195.1 134.6L195.3 136.1L195.5 138.2L195.7 140.3L195.9 141.8L196.1 142.2L196.3 141.7L196.5 141.1L196.7 141.0L196.9 141.8L197.1 143.5L197.3 145.5L197.5 147.0L197.7 147.6L197.9 147.2L198.1 146.2L198.3 145.3L198.5 145.2L198.7 145.8L198.9 147.0L199.1 148.0L199.3 148.4L199.5 147.8L199.7 146.5L199.9 145.0L200.1 143.9L200.3 143.6L200.5 144.0L200.7 144.6L200.9 144.9L201.1 144.3L201.3 143.0L201.5 141.3L201.7 139.8L201.9 138.8L202.1 138.6L202.3 138.8L202.5 138.9L202.7 138.5L202.9 137.5L203.1 135.9L203.3 134.3L203.5 133.0L203.7 132.3L203.9 132.2L204.1 132.3L204.3 132.1L204.5 131.5L204.7 130.3L204.9 128.9L205.1 127.6L205.3 126.9L205.5 126.6L205.7 126.7L205.9 126.8L206.1 126.6L206.3 126.0L206.5 125.1L206.7 124.2L206.9 123.7L207.1 123.5L207.3 123.8L207.5 124.3L207.7 124.6L207.9 124.7L208.1 124.6L208.3 124.5L208.5 124.5L208.7 124.8L208.9 125.5L209.1 126.5L209.3 127.5L209.5 128.3L209.7 129.0L209.9 129.5L210.1 130.0L210.3 130.7L210.5 131.7L210.7 132.9L210.9 134.2L211.1 135.5L211.3 136.5L211.5 137.4L211.7 138.1L211.9 138.9L212.1 139.9L212.3 141.1L212.5 142.4L212.7 143.7L212.9 144.8L213.1 145.7L213.3 146.5L213.5 147.1L213.7 147.8L213.9 148.6L214.1 149.6L214.3 150.7L214.5 151.6L214.7 152.3L214.9 152.6L215.1 152.8L215.3 152.9L215.5 153.1L215.7 153.5L215.9 154.0L216.1 154.4L216.3 154.5L216.5 154.1L216.7 153.4L216.9 152.5L217.1 151.7L217.3 151.0L217.5 150.5L217.7 150.1L217.9 149.5L218.1 148.5L218.3 147.1L218.5 145.4L218.7 143.8L218.9 142.4L219.1 141.4L219.3 140.7L219.5 140.0L219.7 139.1L219.9 137.8L220.1 136.0L220.3 134.2L220.5 132.7L220.7 131.7L220.9 131.3L221.1 131.3L221.3 131.1L221.5 130.5L221.7 129.5L221.9 128.2L222.1 127.2L222.3 126.8L222.5 127.2L222.7 128.1L222.9 129.2L223.1 130.0L223.3 130.2L223.5 129.8L223.7 129.4L223.9 129.4L224.1 130.2L224.3 131.8L224.5 133.8L224.7 135.6L224.9 136.7L225.1 137.1L225.3 137.1L225.5 137.2L225.7 138.1L225.9 139.8L226.1 142.2L226.3 144.7L226.5 146.6L226.7 147.6L226.9 147.8L227.1 147.9L227.3 148.4L227.5 149.9L227.7 152.2L227.9 154.8L228.1 157.2L228.3 158.6L228.5 159.0L228.7 158.9L228.9 158.9L229.1 159.7L229.3 161.4L229.5 163.8L229.7 166.1L229.9 167.7L230.1 168.2L230.3 167.8L230.5 167.1L230.7 166.9L230.9 167.6L231.1 169.2L231.3 171.1L231.5 172.5L231.7 172.8L231.9 172.0L232.1 170.6L232.3 169.2L232.5 168.5L232.7 168.7L232.9 169.4L233.1 169.9L233.3 169.7L233.5 168.3L233.7 166.1L233.9 163.6L234.1 161.6L234.3 160.4L234.5 160.2L234.7 160.2L234.9 159.8L235.1 158.6L235.3 156.4L235.5 153.8L235.7 151.4L235.9 149.9L236.1 149.2L236.3 149.3L236.5 149.4L236.7 148.9L236.9 147.7L237.1 145.9L237.3 144.2L237.5 143.0L237.7 142.8L237.9 143.5L238.1 144.6L238.3 145.4L238.5 145.6L238.7 145.2L238.9 144.4L239.1 143.8L239.3 143.9L239.5 144.8L239.7 146.1L239.9 147.5L240.1 148.3L240.3 148.6L240.5 148.4L240.7 148.2L240.9 148.3L241.1 149.1L241.3 150.4L241.5 151.8L241.7 153.0L241.9 153.8L242.1 154.0L242.3 154.0L242.5 154.1L242.7 154.7L242.9 155.7L243.1 156.9L243.3 158.1L243.5 159.0L243.7 159.4L243.9 159.5L244.1 159.5L244.3 159.7L244.5 160.3L244.7 161.1L244.9 162.0L245.1 162.6L245.3 163.0L245.5 162.9L245.7 162.7L245.9 162.5L246.1 162.4L246.3 162.6L246.5 162.9L246.7 163.0L246.9 162.8L247.1 162.3L247.3 161.4L247.5 160.5L247.7 159.6L247.9 158.9L248.1 158.3L248.3 157.7L248.5 157.0L248.7 156.0L248.9 154.7L249.1 153.4L249.3 152.0L249.5 150.8L249.7 149.7L249.9 148.8L250.1 147.9L250.3 146.8L250.5 145.5L250.7 144.1L250.9 142.6L251.1 141.3L251.3 140.2L251.5 139.3L251.7 138.6L251.9 137.8L252.1 136.9L252.3 135.8L252.5 134.6L252.7 133.6L252.9 132.8L253.1 132.3L253.3 132.1L253.5 132.1L253.7 131.9L253.9 131.6L254.1 131.1L254.3 130.7L254.5 130.5L254.7 130.7L254.9 131.4L255.1 132.2L255.3 133.1L255.5 133.7L255.7 133.9L255.9 134.0L256.1 134.1L256.3 134.7L256.5 135.7L256.7 137.0L256.9 138.4L257.1 139.5L257.3 140.2L257.5 140.4L257.7 140.4L257.9 140.7L258.1 141.5L258.3 142.8L258.5 144.3L258.7 145.5L258.9 146.2L259.1 146.2L259.3 145.8L259.5 145.4L259.7 145.4L259.9 146.0L260.1 147.0L260.3 147.9L260.5 148.3L260.7 147.9L260.9 146.9L261.1 145.6L261.3 144.6L261.5 144.3L261.7 144.7L261.9 145.4L262.1 145.7L262.3 145.3L262.5 144.1L262.7 142.3L262.9 140.6L263.1 139.6L263.3 139.4L263.5 139.9L263.7 140.3L263.9 140.2L264.1 139.1L264.3 137.2L264.5 135.1L264.7 133.5L264.9 132.9L265.1 133.1L265.3 133.7L265.5 134.0L265.7 133.4L265.9 131.8L266.1 129.7L266.3 127.8L266.5 126.8L266.7 126.8L266.9 127.5L267.1 128.3L267.3 128.4L267.5 127.6L267.7 125.9L267.9 124.1L268.1 122.9L268.3 122.7L268.5 123.6L268.7 124.9L268.9 125.8L269.1 125.9L269.3 125.1L269.5 123.8L269.7 122.9L269.9 122.8L270.1 123.8L270.3 125.6L270.5 127.5L270.7 128.7L270.9 129.0L271.1 128.6L271.3 128.0L271.5 128.0L271.7 129.0L271.9 131.0L272.1 133.2L272.3 135.2L272.5 136.3L272.7 136.5L272.9 136.3L273.1 136.3L273.3 137.0L273.5 138.6L273.7 140.8L273.9 143.0L274.1 144.6L274.3 145.2L274.5 145.2L274.7 145.1L274.9 145.4L275.1 146.4L275.3 148.1L275.5 149.9L275.7 151.5L275.9 152.2L276.1 152.3L276.3 151.9L276.5 151.6L276.7 151.8L276.9 152.6L277.1 153.7L277.3 154.7L277.5 155.2L277.7 154.9L277.9 154.0L278.1 152.9L278.3 152.1L278.5 151.6L278.7 151.5L278.9 151.5L279.1 151.2L279.3 150.3L279.5 148.8L279.7 147.1L279.9 145.4L280.1 144.1L280.3 143.2L280.5 142.5L280.7 141.8L280.9 140.8L281.1 139.4L281.3 137.8L281.5 136.1L281.7 134.6L281.9 133.6L282.1 132.9L282.3 132.4L282.5 131.8L282.7 131.0L282.9 130.1L283.1 129.1L283.3 128.2L283.5 127.8L283.7 127.7L283.9 128.0L284.1 128.4L284.3 128.7L284.5 128.8L284.7 128.9L284.9 129.1L285.1 129.4L285.3 130.1L285.5 131.0L285.7 132.1L285.9 133.2L286.1 134.1L286.3 134.9L286.5 135.7L286.7 136.5L286.9 137.6L287.1 138.9L287.3 140.4L287.5 141.9L287.7 143.3L287.9 144.5L288.1 145.6L288.3 146.6L288.5 147.7L288.7 149.1L288.9 150.7L289.1 152.3L289.3 153.9L289.5 155.3L289.7 156.4L289.9 157.3L290.1 158.2L290.3 159.3L290.5 160.7L290.7 162.2L290.9 163.6L291.1 164.9L291.3 165.8L291.5 166.3L291.7 166.7L291.9 167.2L292.1 167.9L292.3 168.9L292.5 170.0L292.7 170.8L292.9 171.3L293.1 171.2L293.3 170.8L293.5 170.3L293.7 170.0L293.9 169.9L294.1 169.9L294.3 169.7L294.5 169.0L294.7 167.6L294.9 165.5L295.1 163.2L295.3 161.1L295.5 159.4L295.7 158.1L295.9 157.0L296.1 155.7L296.3 153.7L296.5 151.2L296.7 148.2L296.9 145.4L297.1 143.1L297.3 141.6L297.5 140.6L297.7 139.8L297.9 138.6L298.1 136.8L298.3 134.5L298.5 132.2L298.7 130.5L298.9 129.7L299.1 129.9L299.3 130.7L299.5 131.5L299.7 131.7L299.9 131.1L300.1 130.2L300.3 129.5L300.5 129.6L300.7 130.7L300.9 132.6L301.1 134.5L301.3 135.9L301.5 136.4L301.7 136.2L301.9 135.8L302.1 136.0L302.3 137.2L302.5 139.3L302.7 141.9L302.9 144.0L303.1 145.4L303.3 145.7L303.5 145.5L303.7 145.5L303.9 146.3L304.1 148.2L304.3 150.7L304.5 153.2L304.7 155.0L304.9 155.7L305.1 155.5L305.3 155.1L305.5 155.2L305.7 156.3L305.9 158.2L306.1 160.4L306.3 162.2L306.5 163.0L306.7 162.7L306.9 161.8L307.1 160.9L307.3 160.8L307.5 161.6L307.7 163.0L307.9 164.2L308.1 164.7L308.3 164.0L308.5 162.4L308.7 160.6L308.9 159.3L309.1 158.8L309.3 159.0L309.5 159.5L309.7 159.6L309.9 158.8L310.1 157.0L310.3 154.7L310.5 152.6L310.7 151.2L310.9 150.6L311.1 150.6L311.3 150.5L311.5 149.8L311.7 148.2L311.9 146.1L312.1 143.8L312.3 142.0L312.5 141.0L312.7 140.6L312.9 140.5L313.1 140.2L313.3 139.2L313.5 137.6L313.7 135.8L313.9 134.1L314.1 133.1L314.3 132.8L314.5 132.9L314.7 133.2L314.9 133.0L315.1 132.4L315.3 131.4L315.5 130.5L315.7 130.0L315.9 130.1L316.1 130.8L316.3 131.8L316.5 132.6L316.7 133.1L316.9 133.1L317.1 133.0L317.3 133.1L317.5 133.6L317.7 134.6L317.9 135.9L318.1 137.1L318.3 138.1L318.5 138.8L318.7 139.1L318.9 139.5L319.1 140.0L319.3 140.8L319.5 141.9L319.7 143.1L319.9 144.0L320.1 144.7L320.3 145.1L320.5 145.2L320.7 145.4L320.9 145.7L321.1 146.2L321.3 146.8L321.5 147.3L321.7 147.4L321.9 147.3L322.1 146.9L322.3 146.5L322.5 146.1L322.7 145.8L322.9 145.7L323.1 145.6L323.3 145.4L323.5 144.9L323.7 144.2L323.9 143.4L324.1 142.6L324.3 141.9L324.5 141.3L324.7 140.9L324.9 140.5L325.1 139.9L325.3 139.1L325.5 138.1L325.7 137.0L325.9 136.0L326.1 135.3L326.3 134.7L326.5 134.3L326.7 133.8L326.9 133.1L327.1 132.2L327.3 131.0L327.5 130.0L327.7 129.2L327.9 128.7L328.1 128.4L328.3 128.2L328.5 127.9L328.7 127.2L328.9 126.3L329.1 125.4L329.3 124.6L329.5 124.3L329.7 124.4L329.9 124.7L330.1 124.9L330.3 124.9L330.5 124.5L330.7 123.8L330.9 123.4L331.1 123.4L331.3 123.9L331.5 124.9L331.7 126.1L331.9 126.9L332.1 127.3L332.3 127.3L332.5 127.2L332.7 127.5L332.9 128.3L333.1 129.8L333.3 131.6L333.5 133.2L333.7 134.3L333.9 134.8L334.1 134.8L334.3 135.0L334.5 135.8L334.7 137.2L334.9 139.3L335.1 141.3L335.3 142.9L335.5 143.6L335.7 143.7L335.9 143.6L336.1 143.9L336.3 144.9L336.5 146.7L336.7 148.8L336.9 150.5L337.1 151.4L337.3 151.4L337.5 150.9L337.7 150.4L337.9 150.6L338.1 151.6L338.3 153.3L338.5 154.8L338.7 155.7L338.9 155.4L339.1 154.3L339.3 152.9L339.5 151.9L339.7 151.6L339.9 152.1L340.1 152.9L340.3 153.3L340.5 152.6L340.7 150.9L340.9 148.5L341.1 146.2L341.3 144.7L341.5 144.2L341.7 144.4L341.9 144.5L342.1 143.9L342.3 142.3L342.5 139.8L342.7 137.2L342.9 135.1L343.1 134.1L343.3 134.0L343.5 134.4L343.7 134.4L343.9 133.6L344.1 131.9L344.3 129.7L344.5 127.9L344.7 127.0L344.9 127.2L345.1 128.2L345.3 129.3L345.5 129.9L345.7 129.6L345.9 128.7L346.1 127.7L346.3 127.3L346.5 128.0L346.7 129.5L346.9 131.5L347.1 133.1L347.3 134.0L347.5 134.2L347.7 133.9L347.9 133.9L348.1 134.7L348.3 136.3L348.5 138.6L348.7 140.8L348.9 142.5L349.1 143.4L349.3 143.8L349.5 144.1L349.7 144.8L349.9 146.2L350.1 148.3L350.3 150.7L350.5 152.7L350.7 154.1L350.9 154.8L351.1 155.2L351.3 155.8L351.5 156.8L351.7 158.5L351.9 160.4L352.1 162.4L352.3 163.8L352.5 164.6L352.7 165.0L352.9 165.2L353.1 165.7L353.3 166.6L353.5 167.8L353.7 169.2L353.9 170.2L354.1 170.8L354.3 170.8L354.5 170.5L354.7 170.2L354.9 170.2L355.1 170.5L355.3 170.7L355.5 170.7L355.7 170.3L355.9 169.3L356.1 167.8L356.3 166.2L356.5 164.6L356.7 163.3L356.9 162.0L357.1 160.8L357.3 159.3L357.5 157.6L357.7 155.5L357.9 153.3L358.1 151.2L358.3 149.3L358.5 147.6L358.7 146.1L358.9 144.7L359.1 143.2L359.3 141.6L359.5 139.9L359.7 138.2L359.9 136.9L360.1 135.9L360.3 135.2L360.5 134.9L360.7 134.6L360.9 134.4L361.1 134.2L361.3 134.0L361.5 134.0L361.7 134.2L361.9 134.7L362.1 135.4L362.3 136.2L362.5 137.0L362.7 137.6L362.9 138.0L363.1 138.5L363.3 139.1L363.5 140.0L363.7 141.2L363.9 142.5L364.1 143.8L364.3 144.8L364.5 145.6L364.7 146.3L364.9 147.0L365.1 147.9L365.3 149.1L365.5 150.6L365.7 152.1L365.9 153.4L366.1 154.3L366.3 154.8L366.5 155.2L366.7 155.8L366.9 156.7L367.1 158.0L367.3 159.4L367.5 160.6L367.7 161.3L367.9 161.5L368.1 161.4L368.3 161.3L368.5 161.4L368.7 162.0L368.9 162.9L369.1 163.7L369.3 164.1L369.5 163.8L369.7 162.9L369.9 161.7L370.1 160.7L370.3 160.2L370.5 160.3L370.7 160.5L370.9 160.5L371.1 159.7L371.3 158.3L371.5 156.3L371.7 154.4L371.9 153.1L372.1 152.4L372.3 152.3L372.5 152.2L372.7 151.5L372.9 150.1L373.1 147.9L373.3 145.5L373.5 143.6L373.7 142.5L373.9 142.2L374.1 142.3L374.3 142.1L374.5 141.2L374.7 139.4L374.9 137.1L375.1 135.0L375.3 133.7L375.5 133.5L375.7 134.0L375.9 134.5L376.1 134.5L376.3 133.6L376.5 132.0L376.7 130.3L376.9 129.3L377.1 129.3L377.3 130.3L377.5 131.8L377.7 133.1L377.9 133.5L378.1 133.0L378.3 132.1L378.5 131.3L378.7 131.5L378.9 132.8L379.1 134.8L379.3 136.9L379.5 138.2L379.7 138.6L379.9 138.2L380.1 137.6L380.3 137.5L380.5 138.4L380.7 140.3L380.9 142.5L381.1 144.2L381.3 145.1L381.5 144.9L381.7 144.1L381.9 143.5L382.1 143.7L382.3 144.8L382.5 146.4L382.7 147.9L382.9 148.7L383.1 148.5L383.3 147.3L383.5 146.0L383.7 145.1L383.9 145.0L384.1 145.7L384.3 146.7L384.5 147.2L384.7 146.9L384.9 145.7L385.1 144.0L385.3 142.5L385.5 141.6L385.7 141.5L385.9 141.9L386.1 142.3L386.3 142.1L386.5 141.0L386.7 139.4L386.9 137.6L387.1 136.3L387.3 135.6L387.5 135.6L387.7 135.8L387.9 135.7L388.1 135.0L388.3 133.6L388.5 132.0L388.7 130.6L388.9 129.6L389.1 129.3L389.3 129.4L389.5 129.5L389.7 129.1L389.9 128.3L390.1 127.1L390.3 125.9L390.5 125.1L390.7 124.7L390.9 124.8L391.1 125.1L391.3 125.3L391.5 125.1L391.7 124.5L391.9 123.9L392.1 123.4L392.3 123.3L392.5 123.7L392.7 124.4L392.9 125.2L393.1 125.8L393.3 126.1L393.5 126.3L393.7 126.5L393.9 126.9L394.1 127.7L394.3 128.8L394.5 130.0L394.7 131.2L394.9 132.1L395.1 132.8L395.3 133.5L395.5 134.2L395.7 135.1L395.9 136.3L396.1 137.7L396.3 139.0L396.5 140.2L396.7 141.2L396.9 142.0L397.1 142.7L397.3 143.6L397.5 144.6L397.7 145.8L397.9 147.0L398.1 148.1L398.3 149.0L398.5 149.6L398.7 150.1L398.9 150.5L399.1 151.1L399.3 151.8L399.5 152.6L399.7 153.4L399.9 153.9L400.1 154.1L400.3 154.0L400.5 153.7L400.7 153.5L400.9 153.4L401.1 153.3L401.3 153.3L401.5 153.1L401.7 152.5L401.9 151.4L402.1 150.2L402.3 148.8L402.5 147.7L402.7 146.8L402.9 146.1L403.1 145.4L403.3 144.5L403.5 143.1L403.7 141.5L403.9 139.7L404.1 138.1L404.3 136.9L404.5 136.1L404.7 135.6L404.9 135.0L405.1 134.1L405.3 132.7L405.5 131.1L405.7 129.7L405.9 128.7L406.1 128.4L406.3 128.7L406.5 129.1L406.7 129.2L406.9 128.9L407.1 128.3L407.3 127.6L407.5 127.3L407.7 127.7L407.9 128.8L408.1 130.3L408.3 131.7L408.5 132.5L408.7 132.7L408.9 132.6L409.1 132.6L409.3 133.2L409.5 134.7L409.7 136.8L409.9 139.0L410.1 140.7L410.3 141.7L410.5 141.9L410.7 142.0L410.9 142.5L411.1 144.0L411.3 146.2L411.5 148.8L411.7 151.1L411.9 152.6L412.1 153.1L412.3 153.2L412.5 153.4L412.7 154.3L412.9 156.1L413.1 158.6L413.3 161.1L413.5 162.9L413.7 163.7L413.9 163.6L414.1 163.3L414.3 163.4L414.5 164.4L414.7 166.3L414.9 168.5L415.1 170.3L415.3 171.1L415.5 170.7L415.7 169.8L415.9 168.9L416.1 168.8L416.3 169.6L416.5 171.0L416.7 172.2L416.9 172.6L417.1 171.7L417.3 169.9L417.5 167.7L417.7 165.9L417.9 165.0L418.1 164.9L418.3 165.0L418.5 164.7L418.7 163.4L418.9 161.1L419.1 158.2L419.3 155.5L419.5 153.6L419.7 152.7L419.9 152.4L420.1 152.1L420.3 151.3L420.5 149.5L420.7 147.0L420.9 144.5L421.1 142.6L421.3 141.7L421.5 141.7L421.7 142.1L421.9 142.4L422.1 142.0L422.3 141.0L422.5 139.7L422.7 138.8L422.9 138.6L423.1 139.3L423.3 140.6L423.5 141.9L423.7 142.8L423.9 142.9L424.1 142.5L424.3 142.1L424.5 142.2L424.7 142.9L424.9 144.3L425.1 145.9L425.3 147.3L425.5 148.1L425.7 148.4L425.9 148.4L426.1 148.5L426.3 149.2L426.5 150.4L426.7 151.9L426.9 153.4L427.1 154.6L427.3 155.2L427.5 155.4L427.7 155.5L427.9 155.9L428.1 156.8L428.3 157.9L428.5 159.2L428.7 160.3L428.9 160.9L429.1 161.1L429.3 161.1L429.5 161.1L429.7 161.4L429.9 161.9L430.1 162.6L430.3 163.3L430.5 163.6L430.7 163.5L430.9 163.0L431.1 162.5L431.3 162.0L431.5 161.6L431.7 161.4L431.9 161.2L432.1 160.8L432.3 160.1L432.5 159.1L432.7 157.9L432.9 156.7L433.1 155.7L433.3 154.8L433.5 154.0L433.7 153.2L433.9 152.1L434.1 150.9L434.3 149.5L434.5 148.0L434.7 146.6L434.9 145.4L435.1 144.5L435.3 143.6L435.5 142.6L435.7 141.5L435.9 140.2L436.1 138.9L436.3 137.6L436.5 136.5L436.7 135.7L436.9 135.1L437.1 134.6L437.3 134.1L437.5 133.3L437.7 132.5L437.9 131.6L438.1 131.0L438.3 130.7L438.5 130.9L438.7 131.2L438.9 131.6L439.1 131.8L439.3 131.8L439.5 131.7L439.7 131.7L439.9 132.0L440.1 132.7L440.3 133.8L440.5 135.0L440.7 135.9L440.9 136.5L441.1 136.8L441.3 137.0L441.5 137.4L441.7 138.2L441.9 139.5L442.1 140.9L442.3 142.2L442.5 143.1L442.7 143.4L442.9 143.4L443.1 143.3L443.3 143.7L443.5 144.6L443.7 145.8L443.9 147.0L444.1 147.8L444.3 147.8L444.5 147.2L444.7 146.3L444.9 145.7L445.1 145.7L445.3 146.2L445.5 147.0L445.7 147.5L445.9 147.3L446.1 146.3L446.3 144.8L446.5 143.3L446.7 142.5L446.9 142.4L447.1 142.9L447.3 143.4L447.5 143.2L447.7 142.3L447.9 140.5L448.1 138.6L448.3 137.1L448.5 136.4L448.7 136.6L448.9 137.1L449.1 137.3L449.3 136.7L449.5 135.1L449.7 133.0L449.9 131.1L450.1 130.0L450.3 129.9L450.5 130.4L450.7 131.0L450.9 131.0L451.1 130.0L451.3 128.2L451.5 126.2L451.7 124.8L451.9 124.4L452.1 125.0L452.3 126.0L452.5 126.8L452.7 126.6L452.9 125.5L453.1 123.8L453.3 122.5L453.5 122.0L453.7 122.7L453.9 124.1L454.1 125.6L454.3 126.6L454.5 126.5L454.7 125.7L454.9 124.9L455.1 124.6L455.3 125.4L455.5 127.1L455.7 129.3L455.9 131.1L456.1 132.1L456.3 132.2L456.5 131.7L456.7 131.6L456.9 132.2L457.1 133.8L457.3 136.1L457.5 138.4L457.7 140.0L457.9 140.7L458.1 140.6L458.3 140.5L458.5 140.8L458.7 141.9L458.9 143.8L459.1 146.0L459.3 147.8L459.5 148.8L459.7 149.0L459.9 148.7L460.1 148.6L460.3 149.0L460.5 150.2L460.7 151.8L460.9 153.3L461.1 154.2L461.3 154.3L461.5 153.8L461.7 153.1L461.9 152.7L462.1 152.9L462.3 153.5L462.5 154.1L462.7 154.4L462.9 154.0L463.1 152.8L463.3 151.3L463.5 149.9L463.7 148.8L463.9 148.2L464.1 147.8L464.3 147.3L464.5 146.5L464.7 145.1L464.9 143.3L465.1 141.5L465.3 139.9L465.5 138.7L465.7 137.9L465.9 137.3L466.1 136.5L466.3 135.4L466.5 134.0L466.7 132.5L466.9 131.2L467.1 130.2L467.3 129.7L467.5 129.4L467.7 129.3L467.9 129.0L468.1 128.6L468.3 128.1L468.5 127.7L468.7 127.6L468.9 127.9L469.1 128.5L469.3 129.2L469.5 130.0L469.7 130.6L469.9 131.1L470.1 131.5L470.3 132.0L470.5 132.9L470.7 133.9L470.9 135.2L471.1 136.6L471.3 137.8L471.5 138.9L471.7 139.8L471.9 140.8L472.1 141.9L472.3 143.2L472.5 144.7L472.7 146.3L472.9 147.9L473.1 149.2L473.3 150.4L473.5 151.4L473.7 152.5L473.9 153.7L474.1 155.2L474.3 156.8L474.5 158.3L474.7 159.7L474.9 160.9L475.1 161.7L475.3 162.4L475.5 163.2L475.7 164.3L475.9 165.5L476.1 166.8L476.3 168.0L476.5 168.8L476.7 169.2L476.9 169.3L477.1 169.4L477.3 169.6L477.5 170.2L477.7 170.9L477.9 171.5L478.1 171.8L478.3 171.4L478.5 170.5L478.7 169.2L478.9 168.0L479.1 167.1L479.3 166.4L479.5 165.9L479.7 165.1L479.9 163.7L480.1 161.7L480.3 159.3L480.5 156.9L480.7 155.0L480.9 153.6L481.1 152.6L481.3 151.7L481.5 150.4L481.7 148.5L481.9 146.1L482.1 143.6L482.3 141.5L482.5 140.2L482.7 139.7L482.9 139.6L483.1 139.5L483.3 138.8L483.5 137.5L483.7 136.0L483.9 134.8L484.1 134.4L484.3 135.0L484.5 136.3L484.7 137.7L484.9 138.6L485.1 138.7L485.3 138.1L485.5 137.5L485.7 137.3L485.9 138.1L486.1 139.8L486.3 141.8L486.5 143.6L486.7 144.6L486.9 144.7L487.1 144.3L487.3 144.1L487.5 144.7L487.7 146.2L487.9 148.5L488.1 150.8L488.3 152.4L488.5 153.0L488.7 152.8L488.9 152.4L489.1 152.4L489.3 153.5L489.5 155.4L489.7 157.7L489.9 159.6L490.1 160.5L490.3 160.4L490.5 159.6L490.7 159.0L490.9 159.2L491.1 160.3L491.3 162.1L491.5 163.8L491.7 164.7L491.9 164.5L492.1 163.3L492.3 162.0L492.5 161.0L492.7 160.9L492.9 161.6L493.1 162.6L493.3 163.0L493.5 162.5L493.7 161.0L493.9 158.9L494.1 157.0L494.3 155.7L494.5 155.4L494.7 155.6L494.9 155.7L495.1 155.2L495.3 153.7L495.5 151.5L495.7 149.1L495.9 147.2L496.1 146.1L496.3 145.8L496.5 145.8L496.7 145.4L496.9 144.3L497.1 142.5L497.3 140.3L497.5 138.3L497.7 137.0L497.9 136.5L498.1 136.5L498.3 136.5L498.5 136.1L498.7 135.0L498.9 133.5L499.1 132.0L499.3 130.9L499.5 130.6L499.7 130.9L499.9 131.5L500.1 132.0L500.3 132.1L500.5 131.7L500.7 131.1L500.9 130.8L501.1 131.0L501.3 131.8L501.5 132.9L501.7 134.1L501.9 135.0L502.1 135.5L502.3 135.7L502.5 135.8L502.7 136.3L502.9 137.1L503.1 138.3L503.3 139.7L503.5 140.8L503.7 141.6L503.9 142.1L504.1 142.4L504.3 142.7L504.5 143.3L504.7 144.1L504.9 145.1L505.1 146.0L505.3 146.6L505.5 146.8L505.7 146.8L505.9 146.6L506.1 146.5L506.3 146.6L506.5 146.8L506.7 147.0L506.9 147.0L507.1 146.8L507.3 146.3L507.5 145.6L507.7 144.9L507.9 144.4L508.1 144.0L508.3 143.8L508.5 143.5L508.7 143.0L508.9 142.3L509.1 141.3L509.3 140.4L509.5 139.5L509.7 138.8L509.9 138.2L510.1 137.8L510.3 137.2L510.5 136.5L510.7 135.5L510.9 134.4L511.1 133.4L511.3 132.5L511.5 131.9L511.7 131.5L511.9 131.1L512.1 130.6L512.3 129.8L512.5 128.8L512.7 127.8L512.9 127.0L513.1 126.4L513.3 126.2L513.5 126.2L513.7 126.1L513.9 125.8L514.1 125.2L514.3 124.4L514.5 123.7L514.7 123.4L514.9 123.5L515.1 124.0L515.3 124.6L515.5 125.1L515.7 125.1L515.9 124.9L516.1 124.6L516.3 124.7L516.5 125.3L516.7 126.4L516.9 127.8L517.1 129.2L517.3 130.1L517.5 130.4L517.7 130.5L517.9 130.7L518.1 131.4L518.3 132.7L518.5 134.6L518.7 136.5L518.9 137.9L519.1 138.8L519.3 139.0L519.5 139.1L519.7 139.5L519.9 140.6L520.1 142.4L520.3 144.5L520.5 146.3L520.7 147.4L520.9 147.7L521.1 147.4L521.3 147.3L521.5 147.8L521.7 149.0L521.9 150.9L522.1 152.7L522.3 153.8L522.5 154.0L522.7 153.4L522.9 152.5L523.1 152.0L523.3 152.3L523.5 153.3L523.7 154.7L523.9 155.5L524.1 155.4L524.3 154.1L524.5 152.2L524.7 150.4L524.9 149.2L525.1 149.0L525.3 149.3L525.5 149.7L525.7 149.2L525.9 147.7L526.1 145.3L526.3 142.7L526.5 140.6L526.7 139.5L526.9 139.4L527.1 139.6L527.3 139.4L527.5 138.4L527.7 136.3L527.8 135.1" stroke="#46dc46" stroke-width="1.8"/>
<path d="M67.9 158.0L68.4 95.6L68.9 84.2L69.4 90.9L69.9 94.6L70.4 97.6L70.9 100.3L71.4 103.3L71.9 106.2L72.4 108.6L72.9 112.1L73.4 120.5L73.9 155.8L74.4 180.0L74.9 194.4L75.4 197.5L75.9 194.9L76.4 190.7L76.9 186.6L77.4 184.0L77.9 184.0L78.4 185.2L78.9 187.0L79.4 188.8L79.9 189.9L80.4 187.8L80.9 176.3L81.4 158.4L81.9 138.1L82.4 119.4L82.9 106.3L83.4 102.6L83.9 105.4L84.4 109.8L84.9 113.1L85.4 113.2L85.9 111.6L86.4 109.0L86.9 105.8L87.4 102.4L87.9 99.4L88.4 97.1L88.9 96.0L89.4 101.3L89.9 119.0L90.4 142.8L90.9 166.0L91.4 181.7L91.9 183.4L92.4 170.8L92.9 151.3L93.4 132.6L93.9 122.3L94.4 124.3L94.9 132.1L95.4 142.6L95.9 152.8L96.4 159.7L96.9 160.6L97.4 156.6L97.9 150.0L98.4 142.6L98.9 136.3L99.4 133.1L99.9 135.1L100.4 140.8L100.9 144.8L101.4 144.4L101.9 142.8L102.4 141.3L102.9 141.1L103.4 141.7L103.9 142.9L104.4 144.6L104.9 146.7L105.4 149.0L105.9 151.5L106.4 154.0L106.9 156.4L107.4 158.6L107.9 160.5L108.4 161.9L108.9 162.8L109.4 163.0L109.9 162.8L110.4 162.3L110.9 161.5L111.4 160.5L111.9 159.4L112.4 158.1L112.9 156.7L113.4 155.3L113.9 153.8L114.4 152.3L114.9 150.9L115.4 149.6L115.9 148.4L116.4 147.4L116.9 146.5L117.4 145.9L117.9 145.6L118.4 145.5L118.9 145.9L119.4 146.6L119.9 147.5L120.4 148.6L120.9 149.9L121.4 151.3L121.9 152.6L122.4 153.9L122.9 155.0L123.4 155.9L123.9 156.6L124.4 157.0L124.9 156.9L125.4 156.5L125.9 155.7L126.4 154.7L126.9 153.3L127.4 151.8L127.9 150.1L128.4 148.4L128.9 146.5L129.4 144.6L129.9 142.8L130.4 141.0L130.9 139.4L131.4 137.9L131.9 136.6L132.4 135.6L132.9 134.9L133.4 134.5L133.9 134.6L134.4 135.0L134.9 135.6L135.4 136.5L135.9 137.5L136.4 138.6L136.9 139.6L137.4 140.5L137.9 141.3L138.4 141.8L138.9 142.0L139.4 141.9L139.9 141.6L140.4 141.1L140.9 140.5L141.4 139.7L141.9 138.9L142.4 138.0L142.9 137.0L143.4 136.0L143.9 135.0L144.4 134.0L144.9 133.1L145.4 132.3L145.9 131.5L146.4 130.9L146.9 130.4L147.4 130.1L147.9 130.0L148.4 130.3L148.9 131.0L149.4 132.1L149.9 133.5L150.4 135.1L150.9 136.9L151.4 138.8L151.9 140.7L152.4 142.5L152.9 144.2L153.4 145.7L153.9 146.8L154.4 147.6L154.9 148.0L155.4 147.9L155.9 147.8L156.4 147.4L156.9 147.0L157.4 146.5L157.9 146.0L158.4 145.4L158.9 144.9L159.4 144.4L159.9 143.9L160.4 143.5L160.9 143.2L161.4 143.0L161.9 143.0L162.4 143.3L162.9 143.8L163.4 144.5L163.9 145.4L164.4 146.4L164.9 147.6L165.4 148.9L165.9 150.3L166.4 151.7L166.9 153.1L167.4 154.5L167.9 155.8L168.4 157.1L168.9 158.3L169.4 159.3L169.9 160.2L170.4 160.9L170.9 161.3L171.4 161.5L171.9 161.4L172.4 161.0L172.9 160.3L173.4 159.3L173.9 158.2L174.4 156.9L174.9 155.5L175.4 154.1L175.9 152.6L176.4 151.2L176.9 149.8L177.4 148.6L177.9 147.5L178.4 146.6L178.9 145.9L179.4 145.6L179.9 145.5L180.4 145.9L180.9 146.6L181.4 147.5L181.9 148.6L182.4 149.9L182.9 151.3L183.4 152.6L183.9 153.9L184.4 155.0L184.9 155.9L185.4 156.6L185.9 157.0L186.4 156.9L186.9 156.5L187.4 155.7L187.9 154.7L188.4 153.3L188.9 151.8L189.4 150.1L189.9 148.4L190.4 146.5L190.9 144.6L191.4 142.8L191.9 141.0L192.4 139.4L192.9 137.9L193.4 136.6L193.9 135.6L194.4 134.9L194.9 134.5L195.4 134.6L195.9 135.0L196.4 135.6L196.9 136.5L197.4 137.5L197.9 138.6L198.4 139.6L198.9 140.5L199.4 141.3L199.9 141.8L200.4 142.0L200.9 141.9L201.4 141.6L201.9 141.1L202.4 140.5L202.9 139.7L203.4 138.9L203.9 138.0L204.4 137.0L204.9 136.0L205.4 135.0L205.9 134.0L206.4 133.1L206.9 132.3L207.4 131.5L207.9 130.9L208.4 130.4L208.9 130.1L209.4 130.0L209.9 130.3L210.4 131.0L210.9 132.1L211.4 133.5L211.9 135.1L212.4 136.9L212.9 138.8L213.4 140.7L213.9 142.5L214.4 144.2L214.9 145.7L215.4 146.8L215.9 147.6L216.4 148.0L216.9 147.9L217.4 147.8L217.9 147.4L218.4 147.0L218.9 146.5L219.4 146.0L219.9 145.4L220.4 144.9L220.9 144.4L221.4 143.9L221.9 143.5L222.4 143.2L222.9 143.0L223.4 143.0L223.9 143.3L224.4 143.8L224.9 144.5L225.4 145.4L225.9 146.4L226.4 147.6L226.9 148.9L227.4 150.3L227.9 151.7L228.4 153.1L228.9 154.5L229.4 155.8L229.9 157.1L230.4 158.3L230.9 159.3L231.4 160.2L231.9 160.9L232.4 161.3L232.9 161.5L233.4 161.4L233.9 161.0L234.4 160.3L234.9 159.3L235.4 158.2L235.9 156.9L236.4 155.5L236.9 154.1L237.4 152.6L237.9 151.2L238.4 149.8L238.9 148.6L239.4 147.5L239.9 146.6L240.4 145.9L240.9 145.6L241.4 145.5L241.9 145.9L242.4 146.6L242.9 147.5L243.4 148.6L243.9 149.9L244.4 151.3L244.9 152.6L245.4 153.9L245.9 155.0L246.4 155.9L246.9 156.6L247.4 157.0L247.9 156.9L248.4 156.5L248.9 155.7L249.4 154.7L249.9 153.3L250.4 151.8L250.9 150.1L251.4 148.4L251.9 146.5L252.4 144.6L252.9 142.8L253.4 141.0L253.9 139.4L254.4 137.9L254.9 136.6L255.4 135.6L255.9 134.9L256.4 134.5L256.9 134.6L257.4 135.0L257.9 135.6L258.4 136.5L258.9 137.5L259.4 138.6L259.9 139.6L260.4 140.5L260.9 141.3L261.4 141.8L261.9 142.0L262.4 141.9L262.9 141.6L263.4 141.1L263.9 140.5L264.4 139.7L264.9 138.9L265.4 138.0L265.9 137.0L266.4 136.0L266.9 135.0L267.4 134.0L267.9 133.1L268.4 132.3L268.9 131.5L269.4 130.9L269.9 130.4L270.4 130.1L270.9 130.0L271.4 130.3L271.9 131.0L272.4 132.1L272.9 133.5L273.4 135.1L273.9 136.9L274.4 138.8L274.9 140.7L275.4 142.5L275.9 144.2L276.4 145.7L276.9 146.8L277.4 147.6L277.9 148.0L278.4 147.9L278.9 147.8L279.4 147.4L279.9 147.0L280.4 146.5L280.9 146.0L281.4 145.4L281.9 144.9L282.4 144.4L282.9 143.9L283.4 143.5L283.9 143.2L284.4 143.0L284.9 143.0L285.4 143.3L285.9 143.8L286.4 144.5L286.9 145.4L287.4 146.4L287.9 147.6L288.4 148.9L288.9 150.3L289.4 151.7L289.9 153.1L290.4 154.5L290.9 155.8L291.4 157.1L291.9 158.3L292.4 159.3L292.9 160.2L293.4 160.9L293.9 161.3L294.4 161.5L294.9 161.4L295.4 161.0L295.9 160.3L296.4 159.3L296.9 158.2L297.4 156.9L297.9 155.5L298.4 154.1L298.9 152.6L299.4 151.2L299.9 149.8L300.4 148.6L300.9 147.5L301.4 146.6L301.9 145.9L302.4 145.6L302.9 145.5L303.4 145.9L303.9 146.6L304.4 147.5L304.9 148.6L305.4 149.9L305.9 151.2L306.4 152.6L306.9 153.9L307.4 155.0L307.9 155.9L308.4 156.6L308.9 157.0L309.4 156.9L309.9 156.5L310.4 155.7L310.9 154.7L311.4 153.3L311.9 151.8L312.4 150.1L312.9 148.4L313.4 146.5L313.9 144.6L314.4 142.8L314.9 141.0L315.4 139.4L315.9 137.9L316.4 136.6L316.9 135.6L317.4 134.9L317.9 134.5L318.4 134.6L318.9 135.0L319.4 135.6L319.9 136.5L320.4 137.5L320.9 138.6L321.4 139.6L321.9 140.5L322.4 141.3L322.9 141.8L323.4 142.0L323.9 141.9L324.4 141.6L324.9 141.1L325.4 140.5L325.9 139.7L326.4 138.9L326.9 138.0L327.4 137.0L327.9 136.0L328.4 135.0L328.9 134.0L329.4 133.1L329.9 132.3L330.4 131.5L330.9 130.9L331.4 130.4L331.9 130.1L332.4 130.0L332.9 130.3L333.4 131.0L333.9 132.1L334.4 133.5L334.9 135.1L335.4 136.9L335.9 138.8L336.4 140.7L336.9 142.5L337.4 144.2L337.9 145.7L338.4 146.8L338.9 147.6L339.4 148.0L339.9 147.9L340.4 147.8L340.9 147.4L341.4 147.0L341.9 146.5L342.4 146.0L342.9 145.4L343.4 144.9L343.9 144.4L344.4 143.9L344.9 143.5L345.4 143.2L345.9 143.0L346.4 143.0L346.9 143.3L347.4 143.8L347.9 144.5L348.4 145.4L348.9 146.4L349.4 147.6L349.9 148.9L350.4 150.3L350.9 151.7L351.4 153.1L351.9 154.5L352.4 155.8L352.9 157.1L353.4 158.3L353.9 159.3L354.4 160.2L354.9 160.9L355.4 161.3L355.9 161.5L356.4 161.4L356.9 161.0L357.4 160.3L357.9 159.3L358.4 158.2L358.9 156.9L359.4 155.5L359.9 154.1L360.4 152.6L360.9 151.2L361.4 149.8L361.9 148.6L362.4 147.5L362.9 146.6L363.4 145.9L363.9 145.6L364.4 145.5L364.9 145.9L365.4 146.6L365.9 147.5L366.4 148.6L366.9 149.9L367.4 151.2L367.9 152.6L368.4 153.9L368.9 155.0L369.4 155.9L369.9 156.6L370.4 157.0L370.9 156.9L371.4 156.5L371.9 155.7L372.4 154.7L372.9 153.3L373.4 151.8L373.9 150.1L374.4 148.4L374.9 146.5L375.4 144.6L375.9 142.8L376.4 141.0L376.9 139.4L377.4 137.9L377.9 136.6L378.4 135.6L378.9 134.9L379.4 134.5L379.9 134.6L380.4 135.0L380.9 135.6L381.4 136.5L381.9 137.5L382.4 138.6L382.9 139.6L383.4 140.5L383.9 141.3L384.4 141.8L384.9 142.0L385.4 141.9L385.9 141.6L386.4 141.1L386.9 140.5L387.4 139.7L387.9 138.9L388.4 138.0L388.9 137.0L389.4 136.0L389.9 135.0L390.4 134.0L390.9 133.1L391.4 132.3L391.9 131.5L392.4 130.9L392.9 130.4L393.4 130.1L393.9 130.0L394.4 130.3L394.9 131.0L395.4 132.1L395.9 133.5L396.4 135.1L396.9 136.9L397.4 138.8L397.9 140.7L398.4 142.5L398.9 144.2L399.4 145.7L399.9 146.8L400.4 147.6L400.9 148.0L401.4 147.9L401.9 147.8L402.4 147.4L402.9 147.0L403.4 146.5L403.9 146.0L404.4 145.4L404.9 144.9L405.4 144.4L405.9 143.9L406.4 143.5L406.9 143.2L407.4 143.0L407.9 143.0L408.4 143.3L408.9 143.8L409.4 144.5L409.9 145.4L410.4 146.4L410.9 147.6L411.4 148.9L411.9 150.3L412.4 151.7L412.9 153.1L413.4 154.5L413.9 155.8L414.4 157.1L414.9 158.3L415.4 159.3L415.9 160.2L416.4 160.9L416.9 161.3L417.4 161.5L417.9 161.4L418.4 161.0L418.9 160.3L419.4 159.3L419.9 158.2L420.4 156.9L420.9 155.5L421.4 154.1L421.9 152.6L422.4 151.2L422.9 149.8L423.4 148.6L423.9 147.5L424.4 146.6L424.9 145.9L425.4 145.6L425.9 145.5L426.4 145.9L426.9 146.6L427.4 147.5L427.9 148.6L428.4 149.9L428.9 151.2L429.4 152.6L429.9 153.9L430.4 155.0L430.9 155.9L431.4 156.6L431.9 157.0L432.4 156.9L432.9 156.5L433.4 155.7L433.9 154.7L434.4 153.3L434.9 151.8L435.4 150.1L435.9 148.4L436.4 146.5L436.9 144.6L437.4 142.8L437.9 141.0L438.4 139.4L438.9 137.9L439.4 136.6L439.9 135.6L440.4 134.9L440.9 134.5L441.4 134.6L441.9 135.0L442.4 135.6L442.9 136.5L443.4 137.5L443.9 138.6L444.4 139.6L444.9 140.5L445.4 141.3L445.9 141.8L446.4 142.0L446.9 141.9L447.4 141.6L447.9 141.1L448.4 140.5L448.9 139.7L449.4 138.9L449.9 138.0L450.4 137.0L450.9 136.0L451.4 135.0L451.9 134.0L452.4 133.1L452.9 132.3L453.4 131.5L453.9 130.9L454.4 130.4L454.9 130.1L455.4 130.0L455.9 130.3L456.4 131.0L456.9 132.1L457.4 133.5L457.9 135.1L458.4 136.9L458.9 138.8L459.4 140.7L459.9 142.5L460.4 144.2L460.9 145.7L461.4 146.8L461.9 147.6L462.4 148.0L462.9 147.9L463.4 147.8L463.9 147.4L464.4 147.0L464.9 146.5L465.4 146.0L465.9 145.4L466.4 144.9L466.9 144.4L467.4 143.9L467.9 143.5L468.4 143.2L468.9 143.0L469.4 143.0L469.9 143.3L470.4 143.8L470.9 144.5L471.4 145.4L471.9 146.4L472.4 147.6L472.9 148.9L473.4 150.3L473.9 151.7L474.4 153.1L474.9 154.5L475.4 155.8L475.9 157.1L476.4 158.3L476.9 159.3L477.4 160.2L477.9 160.9L478.4 161.3L478.9 161.5L479.4 161.4L479.9 161.0L480.4 160.3L480.9 159.3L481.4 158.2L481.9 156.9L482.4 155.5L482.9 154.1L483.4 152.6L483.9 151.2L484.4 149.8L484.9 148.6L485.4 147.5L485.9 146.6L486.4 145.9L486.9 145.6L487.4 145.5L487.9 145.9L488.4 146.6L488.9 147.5L489.4 148.6L489.9 149.9L490.4 151.2L490.9 152.6L491.4 153.9L491.9 155.0L492.4 155.9L492.9 156.6L493.4 157.0L493.9 156.9L494.4 156.5L494.9 155.7L495.4 154.7L495.9 153.3L496.4 151.8L496.9 150.1L497.4 148.4L497.9 146.5L498.4 144.6L498.9 142.8L499.4 141.0L499.9 139.4L500.4 137.9L500.9 136.6L501.4 135.6L501.9 134.9L502.4 134.5L502.9 134.6L503.4 135.0L503.9 135.6L504.4 136.5L504.9 137.5L505.4 138.6L505.9 139.6L506.4 140.5L506.9 141.3L507.4 141.8L507.9 142.0L508.4 141.9L508.9 141.6L509.4 141.1L509.9 140.5L510.4 139.7L510.9 138.9L511.4 138.0L511.9 137.0L512.4 136.0L512.9 135.0L513.4 134.0L513.9 133.1L514.4 132.3L514.9 131.5L515.4 130.9L515.9 130.4L516.4 130.1L516.9 130.0L517.4 130.3L517.9 131.0L518.4 132.1L518.9 133.5L519.4 135.1L519.9 136.9L520.4 138.8L520.9 140.7L521.4 142.5L521.9 144.2L522.4 145.7L522.9 146.8L523.4 147.6L523.9 148.0L524.4 147.9L524.9 147.8L525.4 147.4L525.9 147.0L526.4 146.5L526.9 146.0L527.4 145.4L527.8 145.0" stroke="#dc2428" stroke-width="1.6"/>
<path d="M111.2 161.2L111.7 160.6L112.2 159.7L112.7 158.7L113.2 157.4L113.7 156.1L114.2 154.7L114.7 153.2L115.2 151.8L115.7 150.4L116.2 149.1L116.7 147.9L117.2 146.9L117.7 146.2L118.2 145.7L118.7 145.5L119.2 145.7L119.7 146.3L120.2 147.1L120.7 148.2L121.2 149.4L121.7 150.7L122.2 152.1L122.7 153.4L123.2 154.6L123.7 155.6L124.2 156.4L124.7 156.9L125.2 157.0L125.7 156.7L126.2 156.1L126.7 155.1L127.2 153.9L127.7 152.5L128.2 150.8L128.7 149.1L129.2 147.2L129.7 145.4L130.2 143.5L130.7 141.7L131.2 140.0L131.7 138.4L132.2 137.1L132.7 136.0L133.2 135.1L133.7 134.6L134.2 134.5L134.7 134.8L135.2 135.3L135.7 136.1L136.2 137.1L136.7 138.1L137.2 139.2L137.7 140.2L138.2 141.0L138.7 141.6L139.2 142.0L139.7 142.0L140.2 141.7L140.7 141.3L141.2 140.8L141.7 140.0L142.2 139.2L142.7 138.3L143.2 137.4L143.7 136.4L144.2 135.4L144.7 134.4L145.2 133.5L145.7 132.6L146.2 131.8L146.7 131.1L147.2 130.6L147.7 130.2L148.2 130.0L148.7 130.1L149.2 130.6L149.7 131.6L150.2 132.9L150.7 134.4L151.2 136.2L151.7 138.1L152.2 139.9L152.7 141.8L153.2 143.6L153.7 145.1L154.2 146.4L154.7 147.4L155.2 147.9L155.7 148.0L156.2 147.8L156.7 147.6L157.2 147.2L157.7 146.7L158.2 146.2L158.7 145.7L159.2 145.1L159.7 144.6L160.2 144.1L160.7 143.6L161.2 143.3L161.7 143.1L162.2 143.0L162.7 143.1L163.2 143.5L163.7 144.2L164.2 145.0L164.7 146.0L165.2 147.1L165.7 148.4L166.2 149.7L166.7 151.1L167.2 152.5L167.7 153.9L168.2 155.3L168.7 156.6L169.2 157.8L169.7 158.9L170.2 159.9L170.7 160.6L171.2 161.2L171.7 161.4L172.2 161.5L172.7 161.2L173.2 160.6L173.7 159.7L174.2 158.7L174.7 157.4L175.2 156.1L175.7 154.7L176.2 153.2L176.7 151.8L177.2 150.4L177.7 149.1L178.2 147.9L178.7 146.9L179.2 146.2L179.7 145.7L180.2 145.5L180.7 145.7L181.2 146.3L181.7 147.1L182.2 148.2L182.7 149.4L183.2 150.7L183.7 152.1L184.2 153.4L184.7 154.6L185.2 155.6L185.7 156.4L186.2 156.9L186.7 157.0L187.2 156.7L187.7 156.1L188.2 155.1L188.7 153.9L189.2 152.5L189.7 150.8L190.2 149.1L190.7 147.2L191.2 145.4L191.7 143.5L192.2 141.7L192.7 140.0L193.2 138.4L193.7 137.1L194.2 136.0L194.7 135.1L195.2 134.6L195.7 134.5L196.2 134.8L196.7 135.3L197.2 136.1L197.7 137.1L198.2 138.1L198.7 139.2L199.2 140.2L199.7 141.0L200.2 141.6L200.7 142.0L201.2 142.0L201.7 141.7L202.2 141.3L202.7 140.8L203.2 140.0L203.7 139.2L204.2 138.3L204.7 137.4L205.2 136.4L205.7 135.4L206.2 134.4L206.7 133.5L207.2 132.6L207.7 131.8L208.2 131.1L208.7 130.6L209.2 130.2L209.7 130.0L210.2 130.1L210.7 130.6L211.2 131.6L211.7 132.9L212.2 134.4L212.7 136.2L213.2 138.1L213.7 139.9L214.2 141.8L214.7 143.6L215.2 145.1L215.7 146.4L216.2 147.4L216.7 147.9L217.2 148.0L217.7 147.8L218.2 147.6L218.7 147.2L219.2 146.7L219.7 146.2L220.2 145.7L220.7 145.1L221.2 144.6L221.7 144.1L222.2 143.6L222.7 143.3L223.2 143.1L223.7 143.0L224.2 143.1L224.7 143.5L225.2 144.2L225.7 145.0L226.2 146.0L226.7 147.1L227.2 148.4L227.7 149.7L228.2 151.1L228.7 152.5L229.2 153.9L229.7 155.3L230.2 156.6L230.7 157.8L231.2 158.9L231.7 159.9L232.2 160.6L232.7 161.2L233.2 161.4L233.7 161.5L234.2 161.2L234.7 160.6L235.2 159.7L235.7 158.7L236.2 157.4L236.7 156.1L237.2 154.7L237.7 153.2L238.2 151.8L238.7 150.4L239.2 149.1L239.7 147.9L240.2 146.9L240.7 146.2L241.2 145.7L241.7 145.5L242.2 145.7L242.7 146.3L243.2 147.1L243.7 148.2L244.2 149.4L244.7 150.7L245.2 152.1L245.7 153.4L246.2 154.6L246.7 155.6L247.2 156.4L247.7 156.9L248.2 157.0L248.7 156.7L249.2 156.1L249.7 155.1L250.2 153.9L250.7 152.5L251.2 150.8L251.7 149.1L252.2 147.2L252.7 145.4L253.2 143.5L253.7 141.7L254.2 140.0L254.7 138.4L255.2 137.1L255.7 136.0L256.2 135.1L256.7 134.6L257.2 134.5L257.7 134.8L258.2 135.3L258.7 136.1L259.2 137.1L259.7 138.1L260.2 139.2L260.7 140.2L261.2 141.0L261.7 141.6L262.2 142.0L262.7 142.0L263.2 141.7L263.7 141.3L264.2 140.8L264.7 140.0L265.2 139.2L265.7 138.3L266.2 137.4L266.7 136.4L267.2 135.4L267.7 134.4L268.2 133.5L268.7 132.6L269.2 131.8L269.7 131.1L270.2 130.6L270.7 130.2L271.2 130.0L271.7 130.1L272.2 130.6L272.7 131.6L273.2 132.9L273.7 134.4L274.2 136.2L274.7 138.1L275.2 139.9L275.7 141.8L276.2 143.6L276.7 145.1L277.2 146.4L277.7 147.4L278.2 147.9L278.7 148.0L279.2 147.8L279.7 147.6L280.2 147.2L280.7 146.7L281.2 146.2L281.7 145.7L282.2 145.1L282.7 144.6L283.2 144.1L283.7 143.6L284.2 143.3L284.7 143.1L285.2 143.0L285.7 143.1L286.2 143.5L286.7 144.2L287.2 145.0L287.7 146.0L288.2 147.1L288.7 148.4L289.2 149.7L289.7 151.1L290.2 152.5L290.7 153.9L291.2 155.3L291.7 156.6L292.2 157.8L292.7 158.9L293.2 159.9L293.7 160.6L294.2 161.2L294.7 161.4L295.2 161.5L295.7 161.2L296.2 160.6L296.7 159.7L297.2 158.7L297.7 157.4L298.2 156.1L298.7 154.7L299.2 153.2L299.7 151.8L300.2 150.4L300.7 149.1L301.2 147.9L301.7 146.9L302.2 146.2L302.7 145.7L303.2 145.5L303.7 145.7L304.2 146.3L304.7 147.1L305.2 148.2L305.7 149.4L306.2 150.7L306.7 152.1L307.2 153.4L307.7 154.6L308.2 155.6L308.7 156.4L309.2 156.9L309.7 157.0L310.2 156.7L310.7 156.1L311.2 155.1L311.7 153.9L312.2 152.5L312.7 150.8L313.2 149.1L313.7 147.2L314.2 145.4L314.7 143.5L315.2 141.7L315.7 140.0L316.2 138.4L316.7 137.1L317.2 136.0L317.7 135.1L318.2 134.6L318.7 134.5L319.2 134.8L319.7 135.3L320.2 136.1L320.7 137.1L321.2 138.1L321.7 139.2L322.2 140.2L322.7 141.0L323.2 141.6L323.7 142.0L324.2 142.0L324.7 141.7L325.2 141.3L325.7 140.8L326.2 140.0L326.7 139.2L327.2 138.3L327.7 137.4L328.2 136.4L328.7 135.4L329.2 134.4L329.7 133.5L330.2 132.6L330.7 131.8L331.2 131.1L331.7 130.6L332.2 130.2L332.7 130.0L333.2 130.1L333.7 130.6L334.2 131.6L334.7 132.9L335.2 134.4L335.7 136.2L336.2 138.1L336.7 139.9L337.2 141.8L337.7 143.6L338.2 145.1L338.7 146.4L339.2 147.4L339.7 147.9L340.2 148.0L340.7 147.8L341.2 147.6L341.7 147.2L342.2 146.7L342.7 146.2L343.2 145.7L343.7 145.1L344.2 144.6L344.7 144.1L345.2 143.6L345.7 143.3L346.2 143.1L346.7 143.0L347.2 143.1L347.7 143.5L348.2 144.2L348.7 145.0L349.2 146.0L349.7 147.1L350.2 148.4L350.7 149.7L351.2 151.1L351.7 152.5L352.2 153.9L352.7 155.3L353.2 156.6L353.7 157.8L354.2 158.9L354.7 159.9L355.2 160.6L355.7 161.2L356.2 161.4L356.7 161.5L357.2 161.2L357.7 160.6L358.2 159.7L358.7 158.7L359.2 157.4L359.7 156.1L360.2 154.7L360.7 153.2L361.2 151.8L361.7 150.4L362.2 149.1L362.7 147.9L363.2 146.9L363.7 146.2L364.2 145.7L364.7 145.5L365.2 145.7L365.7 146.3L366.2 147.1L366.7 148.2L367.2 149.4L367.7 150.7L368.2 152.1L368.7 153.4L369.2 154.6L369.7 155.6L370.2 156.4L370.7 156.9L371.2 157.0L371.7 156.7L372.2 156.1L372.7 155.1L373.2 153.9L373.7 152.5L374.2 150.8L374.7 149.1L375.2 147.2L375.7 145.4L376.2 143.5L376.7 141.7L377.2 140.0L377.7 138.4L378.2 137.1L378.7 136.0L379.2 135.1L379.7 134.6L380.2 134.5L380.7 134.8L381.2 135.3L381.7 136.1L382.2 137.1L382.7 138.1L383.2 139.2L383.7 140.2L384.2 141.0L384.7 141.6L385.2 142.0L385.7 142.0L386.2 141.7L386.7 141.3L387.2 140.8L387.7 140.0L388.2 139.2L388.7 138.3L389.2 137.4L389.7 136.4L390.2 135.4L390.7 134.4L391.2 133.5L391.7 132.6L392.2 131.8L392.7 131.1L393.2 130.6L393.7 130.2L394.2 130.0L394.7 130.1L395.2 130.6L395.7 131.6L396.2 132.9L396.7 134.4L397.2 136.2L397.7 138.1L398.2 139.9L398.7 141.8L399.2 143.6L399.7 145.1L400.2 146.4L400.7 147.4L401.2 147.9L401.7 148.0L402.2 147.8L402.7 147.6L403.2 147.2L403.7 146.7L404.2 146.2L404.7 145.7L405.2 145.1L405.7 144.6L406.2 144.1L406.7 143.6L407.2 143.3L407.7 143.1L408.2 143.0L408.7 143.1L409.2 143.5L409.7 144.2L410.2 145.0L410.7 146.0L411.2 147.1L411.7 148.4L412.2 149.7L412.7 151.1L413.2 152.5L413.7 153.9L414.2 155.3L414.7 156.6L415.2 157.8L415.7 158.9L416.2 159.9L416.7 160.6L417.2 161.2L417.7 161.4L418.2 161.5L418.7 161.2L419.2 160.6L419.7 159.7L420.2 158.7L420.7 157.4L421.2 156.1L421.7 154.7L422.2 153.2L422.7 151.8L423.2 150.4L423.7 149.1L424.2 147.9L424.7 146.9L425.2 146.2L425.7 145.7L426.2 145.5L426.7 145.7L427.2 146.3L427.7 147.1L428.2 148.2L428.7 149.4L429.2 150.7L429.7 152.1L430.2 153.4L430.7 154.6L431.2 155.6L431.7 156.4L432.2 156.9L432.7 157.0L433.2 156.7L433.7 156.1L434.2 155.1L434.7 153.9L435.2 152.5L435.7 150.8L436.2 149.1L436.7 147.2L437.2 145.4L437.7 143.5L438.2 141.7L438.7 140.0L439.2 138.4L439.7 137.1L440.2 136.0L440.7 135.1L441.2 134.6L441.7 134.5L442.2 134.8L442.7 135.3L443.2 136.1L443.7 137.1L444.2 138.1L444.7 139.2L445.2 140.2L445.7 141.0L446.2 141.6L446.7 142.0L447.2 142.0L447.7 141.7L448.2 141.3L448.7 140.8L449.2 140.0L449.7 139.2L450.2 138.3L450.7 137.4L451.2 136.4L451.7 135.4L452.2 134.4L452.7 133.5L453.2 132.6L453.7 131.8L454.2 131.1L454.7 130.6L455.2 130.2L455.7 130.0L456.2 130.1L456.7 130.6L457.2 131.6L457.7 132.9L458.2 134.4L458.7 136.2L459.2 138.1L459.7 139.9L460.2 141.8L460.7 143.6L461.2 145.1L461.7 146.4L462.2 147.4L462.7 147.9L463.2 148.0L463.7 147.8L464.2 147.6L464.7 147.2L465.2 146.7L465.7 146.2L466.2 145.7L466.7 145.1L467.2 144.6L467.7 144.1L468.2 143.6L468.7 143.3L469.2 143.1L469.7 143.0L470.2 143.1L470.7 143.5L471.2 144.2L471.7 145.0L472.2 146.0L472.7 147.1L473.2 148.4L473.7 149.7L474.2 151.1L474.7 152.5L475.2 153.9L475.7 155.3L476.2 156.6L476.7 157.8L477.2 158.9L477.7 159.9L478.2 160.6L478.7 161.2L479.2 161.4L479.7 161.5L480.2 161.2L480.7 160.6L481.2 159.7L481.7 158.7L482.2 157.4L482.7 156.1L483.2 154.7L483.7 153.2L484.2 151.8L484.7 150.4L485.2 149.1L485.7 147.9L486.2 146.9L486.7 146.2L487.2 145.7L487.7 145.5L488.2 145.7L488.7 146.3L489.2 147.1L489.7 148.2L490.2 149.4L490.7 150.7L491.2 152.1L491.7 153.4L492.2 154.6L492.7 155.6L493.2 156.4L493.7 156.9L494.2 157.0L494.7 156.7L495.2 156.1L495.7 155.1L496.2 153.9L496.7 152.5L497.2 150.8L497.7 149.1L498.2 147.2L498.7 145.4L499.2 143.5L499.7 141.7L500.2 140.0L500.7 138.4L501.2 137.1L501.7 136.0L502.2 135.1L502.7 134.6L503.2 134.5L503.7 134.8L504.2 135.3L504.7 136.1L505.2 137.1L505.7 138.1L506.2 139.2L506.7 140.2L507.2 141.0L507.7 141.6L508.2 142.0L508.7 142.0L509.2 141.7L509.7 141.3L510.2 140.8L510.7 140.0L511.2 139.2L511.7 138.3L512.2 137.4L512.7 136.4L513.2 135.4L513.7 134.4L514.2 133.5L514.7 132.6L515.2 131.8L515.7 131.1L516.2 130.6L516.7 130.2L517.2 130.0L517.7 130.1L518.2 130.6L518.7 131.6L519.2 132.9L519.7 134.4L520.2 136.2L520.7 138.1L521.2 139.9L521.7 141.8L522.2 143.6L522.7 145.1L523.2 146.4L523.7 147.4L524.2 147.9L524.7 148.0L525.2 147.8L525.7 147.6L526.2 147.2L526.7 146.7L527.2 146.2L527.7 145.7L527.8 145.6" stroke="#6a1a6a" stroke-width="1.0" stroke-opacity="0.35"/>
</g>
<g stroke="#262626" stroke-width="1.25" fill="none">
<rect x="67.8" y="13.8" width="460.0" height="264.6"/>
<path d="M67.80 278.40V274.20M67.80 13.80V18.00M221.48 278.40V274.20M221.48 13.80V18.00M374.82 278.40V274.20M374.82 13.80V18.00M527.80 278.40V274.20M527.80 13.80V18.00M67.80 13.80H72.00M527.80 13.80H523.60M67.80 57.30H72.00M527.80 57.30H523.60M67.80 101.70H72.00M527.80 101.70H523.60M67.80 146.10H72.00M527.80 146.10H523.60M67.80 190.50H72.00M527.80 190.50H523.60M67.80 234.90H72.00M527.80 234.90H523.60M67.80 278.40H72.00M527.80 278.40H523.60"/>
</g>
<g font-size="18.3" text-anchor="middle"><text transform="translate(68.10 304.30) scale(1 1.080)">0</text><text transform="translate(221.78 304.30) scale(1 1.080)">5</text><text transform="translate(375.12 304.30) scale(1 1.080)">10</text><text transform="translate(528.10 304.30) scale(1 1.080)">15</text></g>
<g font-size="18.3" text-anchor="end"><text transform="translate(60.40 21.25) scale(1 1.080)">0.6</text><text transform="translate(60.40 64.60) scale(1 1.080)">0.4</text><text transform="translate(60.40 109.00) scale(1 1.080)">0.2</text><text transform="translate(60.40 153.40) scale(1 1.080)">0</text><text transform="translate(60.40 197.80) scale(1 1.080)">-0.2</text><text transform="translate(60.40 242.20) scale(1 1.080)">-0.4</text><text transform="translate(60.40 286.65) scale(1 1.080)">-0.6</text></g>
<g font-size="20" text-anchor="middle"><text transform="translate(298.00 330.10) scale(1 1.080)">Time (s)</text></g>
<text transform="translate(22.7 146.4) rotate(-90) scale(1.08 1)" font-size="19.8" text-anchor="middle">Relative tire force</text>
<rect x="373.4" y="13.8" width="154.4" height="96.4" fill="#fff" stroke="#262626" stroke-width="1.2"/>
<g fill="none" stroke-width="2">
<line x1="377.5" y1="27.7" x2="420" y2="27.7" stroke="#000" stroke-width="1.8" stroke-dasharray="6.5 2.6 1.4 2.6"/>
<line x1="377.5" y1="51.0" x2="420" y2="51.0" stroke="#2c26c8"/>
<line x1="377.5" y1="74.4" x2="420" y2="74.4" stroke="#46dc46"/>
<line x1="377.5" y1="97.7" x2="420" y2="97.7" stroke="#dc2428"/>
</g>
<g font-size="18">
<text transform="translate(423.50 34.60) scale(1 1.080)">Passive</text><text transform="translate(423.50 57.90) scale(1 1.080)">Backstepping</text><text transform="translate(423.50 81.30) scale(1 1.080)">ESO</text><text transform="translate(423.50 104.60) scale(1 1.080)">Proposed</text>
</g>
</g>
</svg>
</body></html>
